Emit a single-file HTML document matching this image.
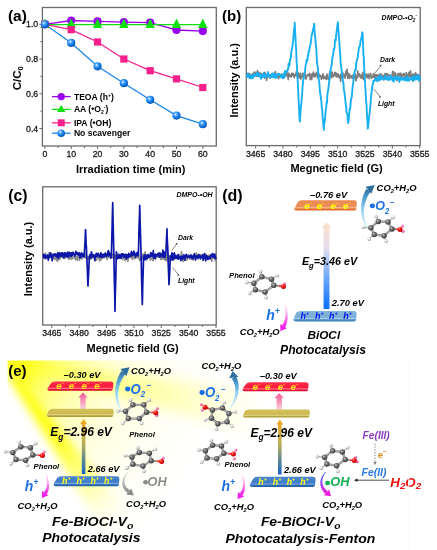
<!DOCTYPE html>
<html><head><meta charset="utf-8"><style>
html,body{margin:0;padding:0;background:#fff;}
#w{position:relative;width:437px;height:550px;overflow:hidden;background:#fff;}
svg{position:absolute;left:0;top:0;}
</style></head><body><div id="w"><svg width="437" height="550" viewBox="0 0 437 550">
<rect x="42.4" y="7.5" width="173.9" height="138.5" fill="none" stroke="#6a6a6a" stroke-width="1.3"/>
<path d="M44.90,146.0v3 M58.06,146.0v2 M71.22,146.0v3 M84.38,146.0v2 M97.54,146.0v3 M110.70,146.0v2 M123.86,146.0v3 M137.02,146.0v2 M150.18,146.0v3 M163.34,146.0v2 M176.50,146.0v3 M189.66,146.0v2 M202.82,146.0v3 M42.4,128.52h-3 M42.4,111.15h-2 M42.4,93.78h-3 M42.4,76.41h-2 M42.4,59.04h-3 M42.4,41.67h-2 M42.4,24.30h-3" stroke="#6a6a6a" stroke-width="1" fill="none"/>
<text x="44.90" y="157.00" style="font-family:'Liberation Sans',Arial,sans-serif;font-size:8.7px;font-weight:normal;font-style:normal;fill:#222" text-anchor="middle" stroke="#1a1a1a" stroke-width="0.3">0</text>
<text x="71.22" y="157.00" style="font-family:'Liberation Sans',Arial,sans-serif;font-size:8.7px;font-weight:normal;font-style:normal;fill:#222" text-anchor="middle" stroke="#1a1a1a" stroke-width="0.3">10</text>
<text x="97.54" y="157.00" style="font-family:'Liberation Sans',Arial,sans-serif;font-size:8.7px;font-weight:normal;font-style:normal;fill:#222" text-anchor="middle" stroke="#1a1a1a" stroke-width="0.3">20</text>
<text x="123.86" y="157.00" style="font-family:'Liberation Sans',Arial,sans-serif;font-size:8.7px;font-weight:normal;font-style:normal;fill:#222" text-anchor="middle" stroke="#1a1a1a" stroke-width="0.3">30</text>
<text x="150.18" y="157.00" style="font-family:'Liberation Sans',Arial,sans-serif;font-size:8.7px;font-weight:normal;font-style:normal;fill:#222" text-anchor="middle" stroke="#1a1a1a" stroke-width="0.3">40</text>
<text x="176.50" y="157.00" style="font-family:'Liberation Sans',Arial,sans-serif;font-size:8.7px;font-weight:normal;font-style:normal;fill:#222" text-anchor="middle" stroke="#1a1a1a" stroke-width="0.3">50</text>
<text x="202.82" y="157.00" style="font-family:'Liberation Sans',Arial,sans-serif;font-size:8.7px;font-weight:normal;font-style:normal;fill:#222" text-anchor="middle" stroke="#1a1a1a" stroke-width="0.3">60</text>
<text x="38.20" y="131.62" style="font-family:'Liberation Sans',Arial,sans-serif;font-size:8.7px;font-weight:normal;font-style:normal;fill:#222" text-anchor="end" stroke="#1a1a1a" stroke-width="0.3">0.4</text>
<text x="38.20" y="96.88" style="font-family:'Liberation Sans',Arial,sans-serif;font-size:8.7px;font-weight:normal;font-style:normal;fill:#222" text-anchor="end" stroke="#1a1a1a" stroke-width="0.3">0.6</text>
<text x="38.20" y="62.14" style="font-family:'Liberation Sans',Arial,sans-serif;font-size:8.7px;font-weight:normal;font-style:normal;fill:#222" text-anchor="end" stroke="#1a1a1a" stroke-width="0.3">0.8</text>
<text x="38.20" y="27.40" style="font-family:'Liberation Sans',Arial,sans-serif;font-size:8.7px;font-weight:normal;font-style:normal;fill:#222" text-anchor="end" stroke="#1a1a1a" stroke-width="0.3">1.0</text>
<text x="76.00" y="172.60" style="font-family:'Liberation Sans',Arial,sans-serif;font-size:11.0px;font-weight:bold;font-style:normal;fill:#000" text-anchor="start" >Irradiation time (min)</text>
<text transform="translate(20.6,90.3) rotate(-90)" style="font-family:'Liberation Sans',Arial,sans-serif;font-size:11.5px;font-weight:bold">C/C<tspan dy="2.5" style="font-size:7.5px">0</tspan></text>
<text x="7.90" y="20.60" style="font-family:'Liberation Sans',Arial,sans-serif;font-size:15.5px;font-weight:bold;font-style:normal;fill:#000" text-anchor="start" >(a)</text>
<defs>
<radialGradient id="sph" cx="0.38" cy="0.35" r="0.65"><stop offset="0" stop-color="#ffffff"/><stop offset="0.25" stop-color="#5ab0ff"/><stop offset="0.7" stop-color="#0a72e0"/><stop offset="1" stop-color="#0658b8"/></radialGradient>
</defs>
<polyline points="44.90,24.30 71.22,20.50 97.54,21.40 123.86,22.10 150.18,22.60 176.50,30.00 202.82,31.10" fill="none" stroke="#9a00f0" stroke-width="1.3"/>
<polyline points="44.90,24.60 71.22,24.60 97.54,24.60 123.86,24.60 150.18,24.60 176.50,24.60 202.82,24.60" fill="none" stroke="#10e010" stroke-width="1.3"/>
<polyline points="44.90,24.30 71.22,29.70 97.54,42.00 123.86,59.00 150.18,70.70 176.50,78.90 202.82,87.50" fill="none" stroke="#f5208c" stroke-width="1.3"/>
<polyline points="44.90,24.30 71.22,42.90 97.54,66.30 123.86,83.20 150.18,99.80 176.50,115.60 202.82,124.20" fill="none" stroke="#1a86e8" stroke-width="1.3"/>
<circle cx="44.90" cy="24.30" r="4.1" fill="#9a00f0"/>
<circle cx="71.22" cy="20.50" r="4.1" fill="#9a00f0"/>
<circle cx="97.54" cy="21.40" r="4.1" fill="#9a00f0"/>
<circle cx="123.86" cy="22.10" r="4.1" fill="#9a00f0"/>
<circle cx="150.18" cy="22.60" r="4.1" fill="#9a00f0"/>
<circle cx="176.50" cy="30.00" r="4.1" fill="#9a00f0"/>
<circle cx="202.82" cy="31.10" r="4.1" fill="#9a00f0"/>
<path d="M44.90,18.58L49.60,27.98L40.20,27.98Z" fill="#10e010"/>
<path d="M71.22,18.58L75.92,27.98L66.52,27.98Z" fill="#10e010"/>
<path d="M97.54,18.58L102.24,27.98L92.84,27.98Z" fill="#10e010"/>
<path d="M123.86,18.58L128.56,27.98L119.16,27.98Z" fill="#10e010"/>
<path d="M150.18,18.58L154.88,27.98L145.48,27.98Z" fill="#10e010"/>
<path d="M176.50,18.58L181.20,27.98L171.80,27.98Z" fill="#10e010"/>
<path d="M202.82,18.58L207.52,27.98L198.12,27.98Z" fill="#10e010"/>
<rect x="41.30" y="20.70" width="7.2" height="7.2" fill="#f5208c"/>
<rect x="67.62" y="26.10" width="7.2" height="7.2" fill="#f5208c"/>
<rect x="93.94" y="38.40" width="7.2" height="7.2" fill="#f5208c"/>
<rect x="120.26" y="55.40" width="7.2" height="7.2" fill="#f5208c"/>
<rect x="146.58" y="67.10" width="7.2" height="7.2" fill="#f5208c"/>
<rect x="172.90" y="75.30" width="7.2" height="7.2" fill="#f5208c"/>
<rect x="199.22" y="83.90" width="7.2" height="7.2" fill="#f5208c"/>
<circle cx="44.90" cy="24.30" r="4.1" fill="url(#sph)"/>
<circle cx="71.22" cy="42.90" r="4.1" fill="url(#sph)"/>
<circle cx="97.54" cy="66.30" r="4.1" fill="url(#sph)"/>
<circle cx="123.86" cy="83.20" r="4.1" fill="url(#sph)"/>
<circle cx="150.18" cy="99.80" r="4.1" fill="url(#sph)"/>
<circle cx="176.50" cy="115.60" r="4.1" fill="url(#sph)"/>
<circle cx="202.82" cy="124.20" r="4.1" fill="url(#sph)"/>
<line x1="52" y1="96.6" x2="70.6" y2="96.6" stroke="#9a00f0" stroke-width="1.3"/>
<line x1="52" y1="109.4" x2="70.6" y2="109.4" stroke="#10e010" stroke-width="1.3"/>
<line x1="52" y1="122.8" x2="70.6" y2="122.8" stroke="#f5208c" stroke-width="1.3"/>
<line x1="52" y1="133.2" x2="70.6" y2="133.2" stroke="#1a86e8" stroke-width="1.3"/>
<circle cx="61.20" cy="96.60" r="3.7" fill="#9a00f0"/>
<path d="M61.20,104.66L65.40,112.06L57.00,112.06Z" fill="#10e010"/>
<rect x="57.70" y="119.30" width="7.0" height="7.0" fill="#f5208c"/>
<circle cx="61.20" cy="133.20" r="3.8" fill="url(#sph)"/>
<text x="73.9" y="99.5" style="font-family:'Liberation Sans',Arial,sans-serif;font-size:8.6px;font-weight:bold">TEOA (h<tspan dy="-3" style="font-size:5px">+</tspan><tspan dy="3">)</tspan></text>
<text x="73.9" y="112.30000000000001" style="font-family:'Liberation Sans',Arial,sans-serif;font-size:8.6px;font-weight:bold">AA (•O<tspan dy="2" style="font-size:5px">2</tspan><tspan dy="-5" style="font-size:5px">-</tspan><tspan dy="3">)</tspan></text>
<text x="73.9" y="125.7" style="font-family:'Liberation Sans',Arial,sans-serif;font-size:8.6px;font-weight:bold">IPA (•OH)</text>
<text x="73.9" y="136.1" style="font-family:'Liberation Sans',Arial,sans-serif;font-size:8.6px;font-weight:bold">No scavenger</text>
<rect x="246.3" y="7.5" width="173.89999999999998" height="138.1" fill="none" stroke="#6a6a6a" stroke-width="1.3"/>
<path d="M255.60,145.6v3 M269.27,145.6v2 M282.95,145.6v3 M296.62,145.6v2 M310.30,145.6v3 M323.98,145.6v2 M337.65,145.6v3 M351.32,145.6v2 M365.00,145.6v3 M378.68,145.6v2 M392.35,145.6v3 M406.02,145.6v2 M419.70,145.6v3" stroke="#6a6a6a" stroke-width="1" fill="none"/>
<text x="255.60" y="157.00" style="font-family:'Liberation Sans',Arial,sans-serif;font-size:8.7px;font-weight:normal;font-style:normal;fill:#222" text-anchor="middle" stroke="#1a1a1a" stroke-width="0.3">3465</text>
<text x="282.95" y="157.00" style="font-family:'Liberation Sans',Arial,sans-serif;font-size:8.7px;font-weight:normal;font-style:normal;fill:#222" text-anchor="middle" stroke="#1a1a1a" stroke-width="0.3">3480</text>
<text x="310.30" y="157.00" style="font-family:'Liberation Sans',Arial,sans-serif;font-size:8.7px;font-weight:normal;font-style:normal;fill:#222" text-anchor="middle" stroke="#1a1a1a" stroke-width="0.3">3495</text>
<text x="337.65" y="157.00" style="font-family:'Liberation Sans',Arial,sans-serif;font-size:8.7px;font-weight:normal;font-style:normal;fill:#222" text-anchor="middle" stroke="#1a1a1a" stroke-width="0.3">3510</text>
<text x="365.00" y="157.00" style="font-family:'Liberation Sans',Arial,sans-serif;font-size:8.7px;font-weight:normal;font-style:normal;fill:#222" text-anchor="middle" stroke="#1a1a1a" stroke-width="0.3">3525</text>
<text x="392.35" y="157.00" style="font-family:'Liberation Sans',Arial,sans-serif;font-size:8.7px;font-weight:normal;font-style:normal;fill:#222" text-anchor="middle" stroke="#1a1a1a" stroke-width="0.3">3540</text>
<text x="419.70" y="157.00" style="font-family:'Liberation Sans',Arial,sans-serif;font-size:8.7px;font-weight:normal;font-style:normal;fill:#222" text-anchor="middle" stroke="#1a1a1a" stroke-width="0.3">3555</text>
<text x="290.40" y="172.40" style="font-family:'Liberation Sans',Arial,sans-serif;font-size:11.0px;font-weight:bold;font-style:normal;fill:#000" text-anchor="start" >Megnetic field (G)</text>
<text transform="translate(237.6,117.6) rotate(-90)" style="font-family:'Liberation Sans',Arial,sans-serif;font-size:11px;font-weight:bold">Intensity (a.u.)</text>
<text x="222.00" y="20.60" style="font-family:'Liberation Sans',Arial,sans-serif;font-size:15px;font-weight:bold;font-style:normal;fill:#000" text-anchor="start" >(b)</text>
<polyline points="247.00,75.39 247.40,75.97 247.80,75.03 248.20,73.45 248.60,74.39 249.00,73.40 249.40,75.58 249.80,78.35 250.20,74.36 250.60,74.81 251.00,76.85 251.40,76.82 251.80,76.49 252.20,74.05 252.60,76.11 253.00,77.17 253.40,73.41 253.80,75.09 254.20,72.00 254.60,73.37 255.00,72.15 255.40,75.62 255.80,73.20 256.20,76.28 256.60,75.90 257.00,75.39 257.40,70.47 257.80,73.78 258.20,74.96 258.60,75.55 259.00,72.31 259.40,74.01 259.80,73.08 260.20,73.58 260.60,77.42 261.00,73.24 261.40,74.98 261.80,77.20 262.20,74.26 262.60,75.57 263.00,75.70 263.40,75.51 263.80,72.67 264.20,75.57 264.60,78.24 265.00,72.38 265.40,77.42 265.80,76.26 266.20,75.18 266.60,80.47 267.00,77.83 267.40,73.48 267.80,75.80 268.20,76.46 268.60,75.09 269.00,76.58 269.40,75.10 269.80,76.60 270.20,78.30 270.60,74.71 271.00,75.63 271.40,74.23 271.80,75.39 272.20,73.32 272.60,74.37 273.00,74.75 273.40,77.24 273.80,77.38 274.20,73.02 274.60,74.03 275.00,77.07 275.40,71.65 275.80,74.62 276.20,75.49 276.60,77.87 277.00,76.52 277.40,74.56 277.80,74.42 278.20,75.08 278.60,78.71 279.00,75.12 279.40,75.82 279.80,77.12 280.20,76.26 280.60,76.11 281.00,74.14 281.40,75.87 281.80,74.56 282.20,77.57 282.60,76.86 283.00,75.50 283.40,77.08 283.80,75.20 284.20,77.82 284.60,75.73 285.00,76.71 285.40,72.86 285.80,76.13 286.20,72.10 286.60,71.26 287.00,74.96 287.40,73.51 287.80,75.62 288.20,79.66 288.60,73.02 289.00,73.78 289.40,75.46 289.80,76.31 290.20,75.01 290.60,74.94 291.00,77.01 291.40,76.56 291.80,73.29 292.20,75.26 292.60,75.30 293.00,73.27 293.40,76.16 293.80,73.95 294.20,77.64 294.60,76.19 295.00,75.87 295.40,74.56 295.80,75.53 296.20,71.87 296.60,73.80 297.00,76.50 297.40,71.85 297.80,77.84 298.20,72.70 298.60,77.69 299.00,74.04 299.40,77.57 299.80,76.60 300.20,73.36 300.60,78.88 301.00,78.86 301.40,76.41 301.80,75.84 302.20,75.20 302.60,73.42 303.00,77.17 303.40,73.95 303.80,74.56 304.20,73.41 304.60,74.25 305.00,72.92 305.40,78.74 305.80,76.60 306.20,78.96 306.60,76.70 307.00,75.08 307.40,75.59 307.80,74.81 308.20,75.67 308.60,74.95 309.00,75.39 309.40,73.35 309.80,74.64 310.20,79.64 310.60,75.03 311.00,74.49 311.40,77.13 311.80,79.38 312.20,73.75 312.60,75.84 313.00,74.47 313.40,72.10 313.80,76.99 314.20,75.62 314.60,75.32 315.00,73.83 315.40,76.48 315.80,74.16 316.20,74.44 316.60,72.36 317.00,72.75 317.40,78.02 317.80,74.34 318.20,76.13 318.60,76.19 319.00,74.80 319.40,74.43 319.80,76.75 320.20,75.18 320.60,75.88 321.00,76.32 321.40,79.34 321.80,78.45 322.20,77.91 322.60,75.74 323.00,73.69 323.40,78.30 323.80,78.72 324.20,76.40 324.60,77.57 325.00,78.22 325.40,78.64 325.80,78.60 326.20,75.74 326.60,79.49 327.00,73.93 327.40,78.06 327.80,77.19 328.20,78.20 328.60,79.52 329.00,78.74 329.40,73.60 329.80,72.41 330.20,76.88 330.60,73.22 331.00,75.69 331.40,77.72 331.80,72.57 332.20,72.03 332.60,77.06 333.00,76.65 333.40,75.74 333.80,75.99 334.20,74.35 334.60,72.64 335.00,75.55 335.40,73.75 335.80,72.40 336.20,76.92 336.60,75.65 337.00,76.96 337.40,73.87 337.80,74.37 338.20,74.18 338.60,74.91 339.00,77.63 339.40,75.47 339.80,77.95 340.20,78.37 340.60,81.43 341.00,73.85 341.40,77.97 341.80,76.11 342.20,76.01 342.60,72.40 343.00,74.07 343.40,76.86 343.80,75.01 344.20,75.19 344.60,74.69 345.00,78.11 345.40,76.02 345.80,71.62 346.20,74.61 346.60,72.00 347.00,69.15 347.40,74.71 347.80,78.51 348.20,75.65 348.60,73.33 349.00,73.83 349.40,78.38 349.80,75.79 350.20,75.34 350.60,75.22 351.00,76.08 351.40,77.89 351.80,77.19 352.20,77.06 352.60,75.26 353.00,78.40 353.40,75.33 353.80,78.95 354.20,74.36 354.60,76.62 355.00,76.28 355.40,74.15 355.80,80.73 356.20,80.05 356.60,76.25 357.00,78.09 357.40,77.57 357.80,71.09 358.20,76.52 358.60,75.93 359.00,75.98 359.40,73.74 359.80,75.29 360.20,75.34 360.60,77.90 361.00,75.89 361.40,75.21 361.80,78.13 362.20,74.16 362.60,74.73 363.00,72.21 363.40,79.58 363.80,78.46 364.20,78.48 364.60,77.49 365.00,76.04 365.40,75.87 365.80,74.49 366.20,74.12 366.60,75.13 367.00,77.90 367.40,76.34 367.80,75.21 368.20,74.07 368.60,74.41 369.00,78.68 369.40,76.70 369.80,75.36 370.20,74.55 370.60,73.53 371.00,76.09 371.40,78.41 371.80,76.18 372.20,76.75 372.60,77.10 373.00,77.32 373.40,73.44 373.80,75.78 374.20,74.39 374.60,77.93 375.00,74.26 375.40,76.72 375.80,78.54 376.20,75.47 376.60,74.85 377.00,76.48 377.40,76.24 377.80,74.68 378.20,77.41 378.60,79.94 379.00,75.62 379.40,75.85 379.80,74.07 380.20,77.00 380.60,73.97 381.00,74.32 381.40,78.75 381.80,74.67 382.20,78.16 382.60,78.52 383.00,76.03 383.40,76.75 383.80,79.81 384.20,75.49 384.60,74.79 385.00,73.60 385.40,76.44 385.80,79.01 386.20,77.95 386.60,73.61 387.00,73.67 387.40,74.11 387.80,75.42 388.20,74.43 388.60,75.23 389.00,75.68 389.40,75.34 389.80,75.90 390.20,76.39 390.60,75.78 391.00,76.65 391.40,79.03 391.80,76.21 392.20,75.03 392.60,71.44 393.00,75.93 393.40,71.45 393.80,72.89 394.20,77.34 394.60,77.34 395.00,76.10 395.40,73.11 395.80,75.91 396.20,75.30 396.60,78.00 397.00,80.76 397.40,76.63 397.80,74.29 398.20,73.46 398.60,75.28 399.00,75.32 399.40,73.74 399.80,76.03 400.20,73.15 400.60,77.57 401.00,77.76 401.40,77.26 401.80,74.14 402.20,76.25 402.60,75.48 403.00,74.87 403.40,74.98 403.80,73.45 404.20,73.74 404.60,78.13 405.00,75.92 405.40,76.71 405.80,78.48 406.20,72.51 406.60,73.69 407.00,75.84 407.40,76.16 407.80,74.59 408.20,77.11 408.60,75.25 409.00,72.18 409.40,72.65 409.80,76.39 410.20,75.88 410.60,70.86 411.00,77.73 411.40,76.76 411.80,78.47 412.20,74.96 412.60,74.98 413.00,73.88 413.40,81.18 413.80,75.29 414.20,78.50 414.60,74.39 415.00,76.27 415.40,72.72 415.80,75.32 416.20,78.55 416.60,74.12 417.00,78.40 417.40,77.46 417.80,74.60 418.20,75.68 418.60,75.53 419.00,76.56 419.40,75.63 419.80,74.46" fill="none" stroke="#7d7d7d" stroke-width="1.6" stroke-linejoin="round"/>
<polyline points="247.00,77.78 247.40,75.37 247.80,73.37 248.20,75.54 248.60,76.14 249.00,76.11 249.40,77.98 249.80,76.69 250.20,77.47 250.60,74.86 251.00,77.02 251.40,78.59 251.80,76.59 252.20,75.91 252.60,75.98 253.00,78.12 253.40,74.38 253.80,75.36 254.20,76.12 254.60,76.27 255.00,74.36 255.40,75.15 255.80,74.37 256.20,74.83 256.60,74.27 257.00,72.71 257.40,74.50 257.80,76.00 258.20,73.79 258.60,74.85 259.00,76.22 259.40,74.17 259.80,75.86 260.20,74.00 260.60,77.03 261.00,78.85 261.40,78.36 261.80,74.89 262.20,76.31 262.60,75.53 263.00,75.04 263.40,76.96 263.80,73.20 264.20,76.80 264.60,75.10 265.00,77.19 265.40,75.76 265.80,74.44 266.20,75.64 266.60,76.25 267.00,75.27 267.40,75.49 267.80,73.94 268.20,72.06 268.60,76.59 269.00,75.91 269.40,75.62 269.80,75.65 270.20,77.19 270.60,75.16 271.00,74.72 271.40,75.79 271.80,77.15 272.20,73.80 272.60,77.16 273.00,74.03 273.40,73.65 273.80,77.04 274.20,75.58 274.60,73.66 275.00,75.30 275.40,77.72 275.80,77.89 276.20,75.51 276.60,76.22 277.00,76.76 277.40,74.30 277.80,75.20 278.20,74.44 278.60,73.58 279.00,73.79 279.40,74.58 279.80,75.15 280.20,74.76 280.60,74.93 281.00,77.41 281.40,76.05 281.80,76.95 282.20,77.24 282.60,76.00 283.00,78.31 283.40,73.59 283.80,76.01 284.00,75.11 284.20,77.23 284.60,76.64 285.00,70.83 285.40,71.65 285.80,73.14 286.20,72.70 286.50,71.73 286.60,71.32 287.00,71.17 287.40,70.81 287.80,69.00 288.20,69.54 288.60,63.71 288.90,66.21 289.00,64.48 289.40,65.36 289.80,61.97 290.20,58.96 290.60,58.90 291.00,56.63 291.00,55.02 291.40,50.95 291.80,50.09 292.20,48.06 292.60,45.56 293.00,40.93 293.20,40.19 293.40,37.42 293.80,32.87 294.20,29.22 294.60,25.42 294.70,22.61 295.00,28.56 295.40,36.62 295.80,44.43 296.20,50.33 296.60,61.30 297.00,67.14 297.40,76.25 297.80,82.07 298.20,91.62 298.60,99.92 299.00,105.99 299.40,116.89 299.70,120.45 299.80,121.58 300.20,116.38 300.60,109.84 301.00,106.54 301.40,103.42 301.80,98.12 301.80,98.26 302.20,92.62 302.60,85.88 303.00,82.80 303.30,79.32 303.40,79.66 303.80,76.18 304.20,74.26 304.60,72.61 305.00,71.29 305.40,66.87 305.80,64.46 306.20,63.42 306.60,59.90 307.00,59.45 307.40,61.02 307.80,55.29 308.20,55.91 308.60,51.22 309.00,51.62 309.40,48.61 309.80,46.79 310.20,45.31 310.60,44.35 311.00,39.91 311.40,37.68 311.80,34.22 312.20,34.39 312.60,31.27 313.00,30.67 313.40,27.68 313.80,28.25 314.10,23.61 314.20,25.36 314.60,31.98 315.00,35.12 315.40,39.08 315.80,44.87 316.20,47.57 316.60,54.45 317.00,62.45 317.40,65.45 317.80,67.02 318.20,71.86 318.50,76.03 318.60,78.97 319.00,79.95 319.40,83.90 319.80,89.82 320.20,93.50 320.60,95.81 321.00,98.70 321.40,101.94 321.80,107.46 322.20,109.51 322.60,117.74 323.00,119.66 323.40,125.06 323.80,128.64 323.80,130.01 324.20,122.87 324.60,122.25 325.00,119.71 325.40,113.33 325.80,109.66 326.20,107.39 326.60,102.09 327.00,103.04 327.40,93.54 327.80,92.21 328.20,90.01 328.60,86.53 329.00,83.59 329.40,80.10 329.60,77.96 329.80,78.57 330.20,70.94 330.60,71.42 331.00,67.61 331.40,66.20 331.80,63.70 332.20,58.80 332.60,56.64 333.00,55.66 333.40,52.49 333.80,48.50 334.20,49.47 334.60,47.41 335.00,39.67 335.40,39.64 335.80,40.36 336.20,35.08 336.60,31.65 337.00,28.52 337.40,25.34 337.80,23.25 337.90,22.29 338.20,27.98 338.60,32.28 339.00,37.93 339.40,42.75 339.80,50.01 340.20,54.44 340.50,59.94 340.60,62.40 341.00,65.09 341.40,68.42 341.80,71.56 342.20,74.78 342.60,77.79 342.70,78.82 343.00,82.03 343.40,82.64 343.80,89.43 344.20,91.02 344.60,93.52 345.00,97.32 345.40,100.50 345.80,105.09 346.20,106.98 346.60,112.75 347.00,113.25 347.40,114.27 347.80,119.34 348.20,122.93 348.20,123.17 348.60,121.26 349.00,117.27 349.40,111.24 349.80,108.48 350.20,108.70 350.60,103.64 351.00,99.93 351.40,97.96 351.80,96.78 352.20,91.91 352.60,87.01 353.00,84.20 353.40,81.14 353.70,77.81 353.80,75.95 354.20,75.54 354.60,72.03 355.00,71.01 355.40,69.40 355.80,70.19 356.20,63.33 356.60,62.16 357.00,59.88 357.40,58.46 357.80,56.93 358.20,53.06 358.60,50.49 359.00,47.42 359.40,46.56 359.80,46.53 360.20,43.89 360.60,40.52 361.00,39.51 361.40,37.86 361.80,36.35 362.20,32.69 362.40,32.35 362.60,33.79 363.00,42.48 363.40,54.35 363.80,57.13 364.20,67.71 364.60,76.08 364.60,75.28 365.00,81.24 365.40,88.80 365.80,95.60 366.20,102.07 366.60,106.01 367.00,115.07 367.40,120.74 367.80,128.38 367.80,128.69 368.20,125.79 368.60,122.40 369.00,116.89 369.40,115.09 369.80,111.58 370.20,107.42 370.60,103.59 371.00,97.54 371.40,93.39 371.80,90.57 372.00,87.52 372.20,87.34 372.60,84.98 373.00,83.89 373.40,80.69 373.80,80.99 374.20,80.61 374.50,80.17 374.60,81.06 375.00,79.50 375.40,79.21 375.80,78.05 376.20,79.73 376.60,78.83 377.00,80.04 377.40,81.35 377.80,79.02 378.20,77.07 378.60,77.90 379.00,77.07 379.40,76.92 379.80,80.21 380.00,78.36 380.20,75.59 380.60,78.65 381.00,79.30 381.40,77.27 381.80,76.77 382.20,77.51 382.60,78.23 383.00,78.68 383.40,79.45 383.80,79.30 384.20,79.38 384.60,79.40 385.00,78.63 385.40,75.75 385.80,77.86 386.20,78.51 386.60,77.62 387.00,79.44 387.40,77.73 387.80,76.54 388.20,79.96 388.60,78.95 389.00,78.33 389.40,79.51 389.80,79.78 390.20,79.13 390.60,75.18 391.00,77.77 391.40,78.38 391.80,77.78 392.20,79.26 392.60,80.82 393.00,78.34 393.40,77.42 393.80,81.53 394.20,77.83 394.60,76.86 395.00,78.51 395.40,78.84 395.80,77.30 396.20,79.57 396.60,77.50 397.00,76.76 397.40,78.59 397.80,79.21 398.20,77.20 398.60,78.16 399.00,77.99 399.40,82.00 399.80,77.08 400.20,79.85 400.60,77.93 401.00,78.15 401.40,79.35 401.80,79.56 402.20,79.86 402.60,79.15 403.00,77.63 403.40,77.64 403.80,78.95 404.20,79.03 404.60,80.45 405.00,79.00 405.40,79.92 405.80,80.40 406.20,78.73 406.60,76.74 407.00,77.11 407.40,76.66 407.80,80.88 408.20,77.70 408.60,80.22 409.00,78.94 409.40,80.55 409.80,79.27 410.20,78.20 410.60,78.10 411.00,78.61 411.40,79.07 411.80,78.20 412.20,79.07 412.60,80.85 413.00,76.26 413.40,79.30 413.80,77.48 414.20,78.62 414.60,79.62 415.00,78.56 415.40,79.51 415.80,75.94 416.20,79.67 416.60,77.44 417.00,79.02 417.40,78.55 417.80,74.95 418.20,77.33 418.60,78.88 419.00,80.83 419.40,79.11 419.80,78.90 420.00,76.45" fill="none" stroke="#18b0f2" stroke-width="1.9" stroke-linejoin="round"/>
<text x="381.6" y="20.0" style="font-family:'Liberation Sans',Arial,sans-serif;font-size:7px;font-weight:bold;font-style:italic">DMPO-•O<tspan dy="1.6" style="font-size:4.6px">2</tspan><tspan dy="-4.4" style="font-size:4.6px">-</tspan></text>
<text x="380.00" y="61.70" style="font-family:'Liberation Sans',Arial,sans-serif;font-size:6.8px;font-weight:bold;font-style:italic;fill:#000" text-anchor="start" >Dark</text>
<text x="377.90" y="105.80" style="font-family:'Liberation Sans',Arial,sans-serif;font-size:6.8px;font-weight:bold;font-style:italic;fill:#000" text-anchor="start" >Light</text>
<path d="M374.9,73 L381,65.5" stroke="#333" stroke-width="0.6"/><path d="M381.6,64.6 l-2.2,0.9 l1.4,1.1z" fill="#333"/>
<path d="M373.6,88.8 L380.4,97" stroke="#333" stroke-width="0.6"/><path d="M381,97.8 l-2.3,-0.6 l1.3,-1.2z" fill="#333"/>
<rect x="42.7" y="186.8" width="173.5" height="138.2" fill="none" stroke="#6a6a6a" stroke-width="1.3"/>
<path d="M51.80,325.0v3 M65.48,325.0v2 M79.17,325.0v3 M92.85,325.0v2 M106.54,325.0v3 M120.22,325.0v2 M133.91,325.0v3 M147.59,325.0v2 M161.28,325.0v3 M174.97,325.0v2 M188.65,325.0v3 M202.33,325.0v2 M216.02,325.0v3" stroke="#6a6a6a" stroke-width="1" fill="none"/>
<text x="51.80" y="336.40" style="font-family:'Liberation Sans',Arial,sans-serif;font-size:8.7px;font-weight:normal;font-style:normal;fill:#222" text-anchor="middle" stroke="#1a1a1a" stroke-width="0.3">3465</text>
<text x="79.17" y="336.40" style="font-family:'Liberation Sans',Arial,sans-serif;font-size:8.7px;font-weight:normal;font-style:normal;fill:#222" text-anchor="middle" stroke="#1a1a1a" stroke-width="0.3">3480</text>
<text x="106.54" y="336.40" style="font-family:'Liberation Sans',Arial,sans-serif;font-size:8.7px;font-weight:normal;font-style:normal;fill:#222" text-anchor="middle" stroke="#1a1a1a" stroke-width="0.3">3495</text>
<text x="133.91" y="336.40" style="font-family:'Liberation Sans',Arial,sans-serif;font-size:8.7px;font-weight:normal;font-style:normal;fill:#222" text-anchor="middle" stroke="#1a1a1a" stroke-width="0.3">3510</text>
<text x="161.28" y="336.40" style="font-family:'Liberation Sans',Arial,sans-serif;font-size:8.7px;font-weight:normal;font-style:normal;fill:#222" text-anchor="middle" stroke="#1a1a1a" stroke-width="0.3">3525</text>
<text x="188.65" y="336.40" style="font-family:'Liberation Sans',Arial,sans-serif;font-size:8.7px;font-weight:normal;font-style:normal;fill:#222" text-anchor="middle" stroke="#1a1a1a" stroke-width="0.3">3540</text>
<text x="216.02" y="336.40" style="font-family:'Liberation Sans',Arial,sans-serif;font-size:8.7px;font-weight:normal;font-style:normal;fill:#222" text-anchor="middle" stroke="#1a1a1a" stroke-width="0.3">3555</text>
<text x="86.50" y="352.20" style="font-family:'Liberation Sans',Arial,sans-serif;font-size:11.0px;font-weight:bold;font-style:normal;fill:#000" text-anchor="start" >Megnetic field (G)</text>
<text transform="translate(32.2,296.3) rotate(-90)" style="font-family:'Liberation Sans',Arial,sans-serif;font-size:11px;font-weight:bold">Intensity (a.u.)</text>
<text x="8.20" y="200.70" style="font-family:'Liberation Sans',Arial,sans-serif;font-size:15.8px;font-weight:bold;font-style:normal;fill:#000" text-anchor="start" >(c)</text>
<polyline points="43.50,258.63 43.90,255.98 44.30,255.29 44.70,258.77 45.10,255.25 45.50,252.97 45.90,258.99 46.30,256.14 46.70,257.08 47.10,255.24 47.50,254.91 47.90,255.63 48.30,256.57 48.70,257.26 49.10,252.46 49.50,257.56 49.90,254.35 50.30,254.17 50.70,257.45 51.10,256.24 51.50,253.25 51.90,259.36 52.30,254.92 52.70,257.07 53.10,256.79 53.50,258.78 53.90,255.83 54.30,259.07 54.70,255.59 55.10,259.05 55.50,255.79 55.90,256.92 56.30,260.53 56.70,257.54 57.10,257.40 57.50,261.41 57.90,258.26 58.30,256.07 58.70,259.40 59.10,255.41 59.50,259.51 59.90,259.56 60.30,256.05 60.70,255.81 61.10,256.87 61.50,256.60 61.90,254.21 62.30,256.87 62.70,252.65 63.10,255.95 63.50,256.19 63.90,256.90 64.30,258.17 64.70,255.60 65.10,258.61 65.50,256.57 65.90,255.37 66.30,253.84 66.70,254.22 67.10,256.78 67.50,254.42 67.90,256.45 68.30,258.68 68.70,258.61 69.10,259.56 69.50,256.48 69.90,254.94 70.30,258.64 70.70,257.05 71.10,258.68 71.50,256.88 71.90,259.26 72.30,258.31 72.70,258.13 73.10,257.75 73.50,257.43 73.90,256.90 74.30,256.49 74.70,258.41 75.10,255.82 75.50,259.71 75.90,256.64 76.30,258.92 76.70,256.97 77.10,256.70 77.50,260.61 77.90,256.89 78.30,254.81 78.70,255.43 79.10,256.19 79.50,260.30 79.90,256.99 80.30,258.09 80.70,254.66 81.10,257.15 81.50,257.02 81.90,259.24 82.30,254.29 82.70,256.64 83.10,256.34 83.50,254.13 83.90,256.65 84.30,256.15 84.70,252.82 85.10,257.91 85.50,257.43 85.90,255.41 86.30,254.13 86.70,259.24 87.10,257.29 87.50,258.71 87.90,259.56 88.30,256.25 88.70,258.49 89.10,256.78 89.50,256.94 89.90,256.81 90.30,256.78 90.70,259.18 91.10,257.24 91.50,256.50 91.90,256.54 92.30,258.03 92.70,256.09 93.10,256.35 93.50,257.73 93.90,256.96 94.30,257.57 94.70,256.41 95.10,260.69 95.50,259.27 95.90,257.27 96.30,256.36 96.70,260.23 97.10,256.65 97.50,255.91 97.90,256.83 98.30,256.43 98.70,258.53 99.10,256.26 99.50,260.94 99.90,256.07 100.30,258.85 100.70,255.93 101.10,260.06 101.50,255.81 101.90,255.65 102.30,257.44 102.70,258.30 103.10,254.35 103.50,256.53 103.90,254.91 104.30,258.02 104.70,257.15 105.10,256.47 105.50,255.44 105.90,256.28 106.30,255.77 106.70,257.92 107.10,259.66 107.50,253.60 107.90,257.11 108.30,256.24 108.70,257.55 109.10,254.90 109.50,256.53 109.90,255.07 110.30,258.30 110.70,257.14 111.10,256.69 111.50,257.44 111.90,256.59 112.30,253.99 112.70,257.87 113.10,257.30 113.50,256.20 113.90,258.54 114.30,258.56 114.70,254.61 115.10,255.19 115.50,259.11 115.90,259.00 116.30,254.80 116.70,254.06 117.10,254.63 117.50,254.95 117.90,253.31 118.30,256.50 118.70,254.16 119.10,254.53 119.50,258.45 119.90,255.41 120.30,256.69 120.70,257.87 121.10,258.20 121.50,255.83 121.90,256.71 122.30,255.23 122.70,259.68 123.10,257.52 123.50,254.58 123.90,257.35 124.30,258.53 124.70,258.10 125.10,260.67 125.50,259.46 125.90,255.93 126.30,256.05 126.70,254.27 127.10,256.89 127.50,256.47 127.90,261.57 128.30,256.89 128.70,252.98 129.10,255.22 129.50,256.40 129.90,254.05 130.30,254.97 130.70,256.26 131.10,257.81 131.50,256.97 131.90,256.21 132.30,259.50 132.70,257.31 133.10,257.19 133.50,255.42 133.90,256.49 134.30,258.86 134.70,254.62 135.10,257.08 135.50,258.10 135.90,255.70 136.30,256.61 136.70,253.69 137.10,258.01 137.50,257.59 137.90,255.84 138.30,252.86 138.70,254.47 139.10,258.57 139.50,260.24 139.90,258.10 140.30,259.91 140.70,256.64 141.10,257.31 141.50,257.72 141.90,258.32 142.30,254.24 142.70,258.82 143.10,259.11 143.50,254.40 143.90,253.91 144.30,256.47 144.70,254.59 145.10,251.75 145.50,257.64 145.90,256.71 146.30,255.18 146.70,259.99 147.10,256.54 147.50,254.82 147.90,256.25 148.30,254.31 148.70,255.21 149.10,257.45 149.50,255.88 149.90,256.21 150.30,260.05 150.70,258.64 151.10,258.65 151.50,258.18 151.90,258.11 152.30,259.82 152.70,257.48 153.10,260.82 153.50,255.75 153.90,257.16 154.30,255.15 154.70,257.17 155.10,258.50 155.50,259.53 155.90,255.93 156.30,256.96 156.70,256.03 157.10,255.03 157.50,254.03 157.90,257.19 158.30,253.78 158.70,256.73 159.10,256.94 159.50,255.68 159.90,255.65 160.30,254.30 160.70,259.56 161.10,254.13 161.50,259.16 161.90,257.43 162.30,254.81 162.70,253.71 163.10,258.52 163.50,259.33 163.90,254.86 164.30,255.97 164.70,259.37 165.10,258.09 165.50,260.68 165.90,256.71 166.30,258.57 166.70,255.34 167.10,261.01 167.50,255.71 167.90,252.71 168.30,256.66 168.70,256.44 169.10,260.14 169.50,256.00 169.90,256.36 170.30,257.54 170.70,258.78 171.10,255.78 171.50,257.91 171.90,257.14 172.30,255.91 172.70,256.98 173.10,257.13 173.50,255.31 173.90,259.18 174.30,254.05 174.70,258.99 175.10,258.59 175.50,256.58 175.90,255.31 176.30,256.26 176.70,257.55 177.10,257.96 177.50,257.02 177.90,258.11 178.30,255.81 178.70,257.36 179.10,254.16 179.50,258.45 179.90,257.32 180.30,256.40 180.70,259.07 181.10,257.90 181.50,251.62 181.90,256.47 182.30,254.18 182.70,259.11 183.10,261.59 183.50,256.69 183.90,257.84 184.30,257.37 184.70,258.31 185.10,258.58 185.50,260.32 185.90,255.93 186.30,260.28 186.70,255.98 187.10,257.87 187.50,259.33 187.90,257.36 188.30,254.55 188.70,255.41 189.10,255.73 189.50,256.77 189.90,259.36 190.30,255.61 190.70,258.76 191.10,258.68 191.50,258.34 191.90,258.19 192.30,259.80 192.70,257.67 193.10,258.21 193.50,257.80 193.90,259.91 194.30,253.13 194.70,258.69 195.10,255.86 195.50,255.50 195.90,254.69 196.30,252.92 196.70,255.55 197.10,255.22 197.50,257.82 197.90,254.26 198.30,259.03 198.70,257.30 199.10,256.49 199.50,255.39 199.90,254.86 200.30,254.73 200.70,256.09 201.10,257.13 201.50,256.49 201.90,254.49 202.30,256.84 202.70,255.67 203.10,257.06 203.50,260.07 203.90,257.94 204.30,255.92 204.70,253.58 205.10,253.79 205.50,253.48 205.90,257.88 206.30,254.93 206.70,256.64 207.10,255.46 207.50,256.80 207.90,259.48 208.30,255.38 208.70,255.98 209.10,255.20 209.50,258.23 209.90,255.21 210.30,254.92 210.70,254.53 211.10,254.99 211.50,258.14 211.90,261.50 212.30,255.19 212.70,258.63 213.10,257.71 213.50,255.22 213.90,257.29 214.30,257.75 214.70,256.62 215.10,261.05 215.50,253.99 215.90,257.98" fill="none" stroke="#8a8a8a" stroke-width="1.5" stroke-linejoin="round"/>
<polyline points="43.50,253.57 43.80,257.74 44.10,257.38 44.40,255.95 44.70,255.93 45.00,255.94 45.30,254.96 45.60,258.11 45.90,256.85 46.20,256.42 46.50,256.33 46.80,257.60 47.10,256.55 47.40,257.40 47.70,254.77 48.00,257.77 48.30,260.12 48.60,255.69 48.90,256.55 49.20,257.61 49.50,257.55 49.80,256.34 50.10,252.90 50.40,256.16 50.70,253.41 51.00,254.02 51.30,256.61 51.60,255.57 51.90,256.98 52.20,260.78 52.50,257.55 52.80,257.63 53.10,254.44 53.40,254.76 53.70,254.43 54.00,254.92 54.30,254.10 54.60,254.33 54.90,255.55 55.20,254.34 55.50,253.86 55.80,253.91 56.10,256.50 56.40,256.05 56.70,257.00 57.00,256.90 57.30,254.35 57.60,255.63 57.90,252.49 58.20,258.52 58.50,257.26 58.80,255.15 59.10,253.82 59.40,256.20 59.70,252.87 60.00,254.25 60.30,256.57 60.60,255.70 60.90,254.39 61.20,256.51 61.50,252.91 61.80,254.89 62.10,253.61 62.40,252.98 62.70,255.30 63.00,253.65 63.30,258.01 63.60,253.96 63.90,257.73 64.20,253.11 64.50,255.64 64.80,252.67 65.10,253.07 65.40,255.10 65.70,255.91 66.00,253.14 66.30,256.89 66.60,253.73 66.90,254.63 67.20,255.63 67.50,255.83 67.80,252.19 68.10,257.31 68.40,255.78 68.70,254.32 69.00,253.41 69.30,252.49 69.60,253.04 69.90,255.87 70.20,254.27 70.50,252.91 70.80,253.32 71.10,256.49 71.40,253.42 71.70,252.79 72.00,255.97 72.30,254.93 72.60,254.12 72.90,253.48 73.20,252.22 73.50,253.00 73.80,254.21 74.10,254.48 74.40,255.59 74.70,255.99 75.00,255.22 75.30,255.20 75.60,253.29 75.90,251.29 76.20,253.84 76.50,252.75 76.80,254.00 77.10,254.36 77.40,252.68 77.70,253.27 78.00,254.81 78.30,254.74 78.60,253.11 78.90,255.05 79.20,254.07 79.50,252.97 79.80,254.76 80.10,257.88 80.40,254.00 80.70,256.47 81.00,256.63 81.30,256.58 81.60,252.76 81.90,256.92 82.20,253.79 82.50,253.84 82.80,254.39 83.10,255.48 83.40,254.82 83.70,254.38 84.00,257.05 84.30,253.76 84.30,253.76 84.60,249.94 84.90,244.08 85.20,238.84 85.50,229.80 85.60,229.77 85.80,234.79 86.10,243.86 86.40,246.63 86.70,256.12 87.00,262.52 87.30,267.57 87.60,275.96 87.90,285.70 88.00,285.89 88.20,280.60 88.50,276.23 88.80,269.41 89.10,262.60 89.30,256.47 89.40,256.47 89.70,257.59 90.00,254.57 90.30,254.47 90.60,257.11 90.90,258.22 91.20,253.85 91.50,251.98 91.80,253.48 92.10,254.41 92.40,255.46 92.70,256.81 93.00,255.82 93.30,254.99 93.60,256.65 93.90,254.93 94.20,256.19 94.50,255.75 94.80,260.56 95.10,257.86 95.40,255.19 95.70,254.83 96.00,255.89 96.30,253.34 96.60,254.37 96.90,254.26 97.20,256.70 97.50,255.32 97.80,253.85 98.10,253.33 98.40,253.91 98.70,255.30 99.00,254.99 99.30,256.62 99.60,254.87 99.90,257.07 100.20,255.29 100.50,255.35 100.80,252.81 101.10,253.67 101.40,255.78 101.70,257.28 102.00,255.78 102.30,256.61 102.60,254.45 102.90,254.46 103.20,254.40 103.50,256.82 103.80,256.21 104.10,254.55 104.40,254.16 104.70,255.95 105.00,255.59 105.30,253.15 105.60,256.60 105.90,254.85 106.20,254.64 106.50,256.27 106.80,255.57 107.10,254.08 107.40,255.05 107.70,252.44 108.00,253.00 108.30,250.61 108.60,256.17 108.90,251.65 109.20,255.38 109.50,253.38 109.80,253.29 110.10,254.71 110.40,255.18 110.70,255.99 111.00,258.03 111.30,255.74 111.40,254.46 111.60,246.18 111.90,236.33 112.20,223.23 112.50,209.84 112.70,202.66 112.80,207.02 113.10,221.47 113.40,235.96 113.70,248.41 114.00,262.75 114.30,279.39 114.60,289.83 114.90,305.47 115.00,311.33 115.20,298.53 115.50,288.38 115.80,277.93 116.10,261.47 116.30,257.51 116.40,251.96 116.70,258.31 117.00,259.02 117.30,258.08 117.60,256.84 117.90,257.47 118.20,255.68 118.50,258.06 118.80,254.81 119.10,256.18 119.40,257.98 119.70,254.79 120.00,255.94 120.30,257.02 120.60,254.87 120.90,258.50 121.20,256.69 121.50,253.91 121.80,255.76 122.10,253.72 122.40,254.01 122.70,255.29 123.00,254.42 123.30,256.84 123.60,254.17 123.90,257.34 124.20,255.34 124.50,256.44 124.80,254.93 125.10,255.04 125.40,254.36 125.70,256.71 126.00,257.29 126.30,259.08 126.60,257.44 126.90,255.59 127.20,254.82 127.50,256.01 127.80,255.87 128.10,257.70 128.40,256.56 128.70,253.71 129.00,254.06 129.30,256.95 129.60,255.24 129.90,254.55 130.20,256.60 130.50,254.59 130.80,254.48 131.10,253.83 131.40,251.41 131.70,255.96 132.00,253.13 132.30,253.79 132.60,252.97 132.90,255.28 133.20,254.05 133.50,253.92 133.80,251.19 134.10,253.62 134.40,252.15 134.70,254.83 135.00,254.87 135.30,254.09 135.60,257.10 135.90,254.98 136.20,254.64 136.50,253.64 136.80,252.99 137.10,255.19 137.40,255.55 137.70,252.20 138.00,255.90 138.30,255.27 138.40,254.34 138.60,247.03 138.90,233.52 139.20,222.12 139.50,215.58 139.70,205.43 139.80,207.60 140.10,221.78 140.40,231.85 140.70,241.16 141.00,251.87 141.30,264.30 141.60,278.59 141.90,289.43 142.20,300.48 142.30,304.54 142.50,298.02 142.80,282.40 143.10,274.05 143.40,263.04 143.60,256.62 143.70,256.07 144.00,256.43 144.30,256.96 144.60,255.15 144.90,256.16 145.20,259.97 145.50,255.50 145.80,255.25 146.10,257.87 146.40,258.22 146.70,257.72 147.00,255.37 147.30,258.69 147.60,255.42 147.90,254.87 148.20,255.41 148.50,256.36 148.80,257.39 149.10,257.05 149.40,255.52 149.70,256.74 150.00,255.59 150.30,256.64 150.60,252.88 150.90,252.66 151.20,256.52 151.50,253.10 151.80,254.72 152.10,254.79 152.40,254.72 152.70,254.13 153.00,256.75 153.30,250.70 153.60,255.82 153.90,258.30 154.20,254.49 154.50,255.01 154.80,255.97 155.10,258.42 155.40,254.17 155.70,256.11 156.00,255.49 156.30,256.28 156.60,256.09 156.90,256.30 157.20,254.36 157.50,254.84 157.80,253.74 158.10,254.15 158.40,254.64 158.70,254.76 159.00,253.08 159.30,257.19 159.60,254.72 159.90,252.85 160.20,256.80 160.50,254.08 160.80,256.20 161.10,255.40 161.40,255.30 161.70,255.11 162.00,253.62 162.30,254.31 162.60,257.07 162.90,250.15 163.20,254.07 163.50,254.55 163.80,252.67 164.10,251.98 164.40,257.09 164.70,253.92 165.00,257.47 165.30,255.45 165.60,254.40 165.70,254.19 165.90,251.71 166.20,246.75 166.50,239.66 166.80,233.27 167.00,228.83 167.10,234.46 167.40,241.74 167.70,246.65 168.00,256.05 168.30,265.75 168.60,273.28 168.90,282.10 169.00,284.62 169.20,281.38 169.50,275.77 169.80,269.95 170.10,261.40 170.30,257.55 170.40,255.79 170.70,260.78 171.00,257.61 171.30,257.51 171.60,256.38 171.90,252.84 172.20,257.57 172.50,257.74 172.80,260.21 173.10,254.22 173.40,259.30 173.70,256.31 174.00,257.37 174.30,252.74 174.60,257.11 174.90,256.94 175.20,258.22 175.50,256.99 175.80,255.27 176.10,258.43 176.40,258.04 176.70,257.58 177.00,257.84 177.30,258.44 177.60,256.69 177.90,254.91 178.20,254.70 178.50,259.20 178.80,258.91 179.10,257.88 179.40,257.47 179.70,257.70 180.00,257.47 180.30,256.86 180.60,256.27 180.90,260.72 181.20,258.17 181.50,257.20 181.80,256.36 182.10,257.31 182.40,259.12 182.70,258.83 183.00,256.58 183.30,257.14 183.60,256.30 183.90,254.98 184.20,258.25 184.50,257.12 184.80,260.28 185.10,255.39 185.40,256.19 185.70,257.50 186.00,256.41 186.30,254.24 186.60,255.15 186.90,256.41 187.20,256.61 187.50,256.12 187.80,257.59 188.10,257.50 188.40,256.60 188.70,256.08 189.00,255.96 189.30,257.09 189.60,257.38 189.90,256.88 190.20,256.97 190.50,256.16 190.80,254.99 191.10,255.13 191.40,257.53 191.70,256.65 192.00,258.61 192.30,256.22 192.60,257.46 192.90,258.52 193.20,258.18 193.50,255.00 193.80,255.79 194.10,255.96 194.40,254.08 194.70,256.41 195.00,257.16 195.30,255.93 195.60,259.81 195.90,256.83 196.20,256.61 196.50,256.40 196.80,255.89 197.10,257.07 197.40,255.95 197.70,258.32 198.00,257.06 198.30,257.13 198.60,256.00 198.90,254.60 199.20,256.89 199.50,255.00 199.80,257.50 200.10,255.92 200.40,258.81 200.70,257.03 201.00,257.08 201.30,256.65 201.60,256.92 201.90,257.49 202.20,257.52 202.50,254.96 202.80,256.95 203.10,260.17 203.40,255.55 203.70,255.55 204.00,254.87 204.30,253.99 204.60,257.89 204.90,256.60 205.20,257.59 205.50,259.63 205.80,260.74 206.10,255.26 206.40,258.47 206.70,257.64 207.00,257.38 207.30,257.56 207.60,256.36 207.90,259.44 208.20,257.60 208.50,257.12 208.80,258.15 209.10,257.85 209.40,257.79 209.70,256.86 210.00,259.23 210.30,257.20 210.60,256.18 210.90,255.27 211.20,256.13 211.50,255.36 211.80,256.40 212.10,256.78 212.40,253.55 212.70,256.23 213.00,256.67 213.30,255.83 213.60,254.29 213.90,257.63 214.20,254.74 214.50,254.20 214.80,254.53 215.10,256.37 215.40,258.28 215.70,258.50 216.00,256.87" fill="none" stroke="#0c16a8" stroke-width="1.7" stroke-linejoin="round"/>
<text x="176.40" y="197.40" style="font-family:'Liberation Sans',Arial,sans-serif;font-size:7.0px;font-weight:bold;font-style:italic;fill:#000" text-anchor="start" >DMPO-•OH</text>
<text x="178.00" y="239.70" style="font-family:'Liberation Sans',Arial,sans-serif;font-size:6.8px;font-weight:bold;font-style:italic;fill:#000" text-anchor="start" >Dark</text>
<text x="178.00" y="283.10" style="font-family:'Liberation Sans',Arial,sans-serif;font-size:6.8px;font-weight:bold;font-style:italic;fill:#000" text-anchor="start" >Light</text>
<path d="M171.7,250.6 L177,243.6" stroke="#333" stroke-width="0.6"/><path d="M177.6,242.8 l-2.2,0.9 l1.4,1.1z" fill="#333"/>
<path d="M172.5,267.5 L178.7,275" stroke="#333" stroke-width="0.6"/><path d="M179.3,275.8 l-2.3,-0.6 l1.3,-1.2z" fill="#333"/>
<defs>
<radialGradient id="gC" cx="0.38" cy="0.35" r="0.7"><stop offset="0" stop-color="#d8d8d8"/><stop offset="0.3" stop-color="#7a7a7a"/><stop offset="1" stop-color="#343434"/></radialGradient>
<radialGradient id="gH" cx="0.38" cy="0.35" r="0.7"><stop offset="0" stop-color="#ffffff"/><stop offset="0.45" stop-color="#dcdcdc"/><stop offset="1" stop-color="#8a8a8a"/></radialGradient>
<radialGradient id="gO" cx="0.35" cy="0.32" r="0.7"><stop offset="0" stop-color="#ffb0b0"/><stop offset="0.35" stop-color="#ff1a1a"/><stop offset="1" stop-color="#b00000"/></radialGradient>
<radialGradient id="gHO" cx="0.35" cy="0.32" r="0.7"><stop offset="0" stop-color="#ffe0f0"/><stop offset="0.5" stop-color="#ff70b8"/><stop offset="1" stop-color="#d03080"/></radialGradient>
<linearGradient id="barOr" x1="0" y1="0" x2="0" y2="1"><stop offset="0" stop-color="#e98a52"/><stop offset="0.6" stop-color="#ec8e58"/><stop offset="0.72" stop-color="#f6bc96"/><stop offset="0.84" stop-color="#e8783a"/><stop offset="1" stop-color="#dc6418"/></linearGradient>
<linearGradient id="barBl" x1="0" y1="0" x2="0" y2="1"><stop offset="0" stop-color="#86b8dc"/><stop offset="0.6" stop-color="#78acd6"/><stop offset="0.72" stop-color="#a8cceb"/><stop offset="0.84" stop-color="#4e90c4"/><stop offset="1" stop-color="#3a7cb4"/></linearGradient>
<linearGradient id="barRd" x1="0" y1="0" x2="0" y2="1"><stop offset="0" stop-color="#ff3050"/><stop offset="0.6" stop-color="#ff1838"/><stop offset="0.74" stop-color="#ff7a96"/><stop offset="0.86" stop-color="#e81034"/><stop offset="1" stop-color="#d00828"/></linearGradient>
<linearGradient id="barKh" x1="0" y1="0" x2="0" y2="1"><stop offset="0" stop-color="#d2c25a"/><stop offset="0.6" stop-color="#ccba50"/><stop offset="0.72" stop-color="#e2d690"/><stop offset="0.84" stop-color="#b8a640"/><stop offset="1" stop-color="#a89636"/></linearGradient>
<linearGradient id="barBe" x1="0" y1="0" x2="0" y2="1"><stop offset="0" stop-color="#4a86d0"/><stop offset="0.6" stop-color="#3e7cc8"/><stop offset="0.72" stop-color="#78a8e0"/><stop offset="0.84" stop-color="#2e6cb8"/><stop offset="1" stop-color="#2460a8"/></linearGradient>
<linearGradient id="arD" x1="0" y1="0" x2="0" y2="1"><stop offset="0" stop-color="#fde0c8"/><stop offset="0.3" stop-color="#e4dcee"/><stop offset="0.6" stop-color="#78aef8"/><stop offset="1" stop-color="#0a70ff"/></linearGradient>
<linearGradient id="arP" x1="0" y1="0" x2="0" y2="1"><stop offset="0" stop-color="#f25898"/><stop offset="1" stop-color="#f8d4dc"/></linearGradient>
<linearGradient id="arE" x1="0" y1="0" x2="0" y2="1"><stop offset="0" stop-color="#f6a820"/><stop offset="0.45" stop-color="#b8b058"/><stop offset="1" stop-color="#1262c8"/></linearGradient>
<linearGradient id="cvB" x1="0" y1="1" x2="0" y2="0"><stop offset="0" stop-color="#e0f2fc"/><stop offset="0.5" stop-color="#8ccff2"/><stop offset="0.8" stop-color="#4c9acb"/><stop offset="1" stop-color="#2c6e9c"/></linearGradient>
<linearGradient id="cvP" x1="0" y1="0" x2="0" y2="1"><stop offset="0" stop-color="#fff0fc"/><stop offset="0.5" stop-color="#f8a0f0"/><stop offset="1" stop-color="#f010e0"/></linearGradient>
<linearGradient id="cvG" x1="0" y1="0" x2="0" y2="1"><stop offset="0" stop-color="#e8e8e8"/><stop offset="1" stop-color="#8a8a8a"/></linearGradient>
<linearGradient id="cvF" x1="0" y1="0" x2="0" y2="1"><stop offset="0" stop-color="#2a5cf0"/><stop offset="0.5" stop-color="#9a50f0"/><stop offset="1" stop-color="#f018d8"/></linearGradient>
</defs>
<text x="222.20" y="200.50" style="font-family:'Liberation Sans',Arial,sans-serif;font-size:16px;font-weight:bold;font-style:normal;fill:#000" text-anchor="start" >(d)</text>
<path d="M301.80,200.30 L354.20,200.30 Q356.80,200.30 356.80,202.90 L356.40,208.00 Q356.40,210.60 353.80,210.60 L297.30,210.60 Q293.80,210.60 294.40,208.04 L298.00,201.90 Q299.20,200.30 301.80,200.30 Z" fill="url(#barOr)"/>
<text x="304.16" y="208.90" style="font-family:'Liberation Sans',Arial,sans-serif;font-size:9.8px;font-weight:bold;font-style:italic;fill:#ffff00">e<tspan dy="-3.72" style="font-size:5.88px">-</tspan></text>
<text x="316.76" y="208.90" style="font-family:'Liberation Sans',Arial,sans-serif;font-size:9.8px;font-weight:bold;font-style:italic;fill:#ffff00">e<tspan dy="-3.72" style="font-size:5.88px">-</tspan></text>
<text x="330.46" y="208.90" style="font-family:'Liberation Sans',Arial,sans-serif;font-size:9.8px;font-weight:bold;font-style:italic;fill:#ffff00">e<tspan dy="-3.72" style="font-size:5.88px">-</tspan></text>
<text x="343.06" y="208.90" style="font-family:'Liberation Sans',Arial,sans-serif;font-size:9.8px;font-weight:bold;font-style:italic;fill:#ffff00">e<tspan dy="-3.72" style="font-size:5.88px">-</tspan></text>
<text x="310.00" y="197.80" style="font-family:'Liberation Sans',Arial,sans-serif;font-size:9.3px;font-weight:bold;font-style:italic;fill:#000" text-anchor="start" >–0.76 eV</text>
<path d="M326.50,222.30 L331.60,227.80 L329.45,227.80 L329.45,309.00 L323.55,309.00 L323.55,227.80 L321.40,227.80 Z" fill="url(#arD)"/>
<text x="301.90" y="264.80" style="font-family:'Liberation Sans',Arial,sans-serif;font-size:10.8px;font-weight:bold;font-style:italic">E<tspan dy="3.24" style="font-size:7.56px">g</tspan><tspan dy="-3.24">=3.46 eV</tspan></text>
<text x="331.70" y="306.20" style="font-family:'Liberation Sans',Arial,sans-serif;font-size:9.4px;font-weight:bold;font-style:italic;fill:#000" text-anchor="start" >2.70 eV</text>
<path d="M300.20,311.00 L354.00,311.00 Q356.60,311.00 356.60,313.60 L356.20,318.80 Q356.20,321.40 353.60,321.40 L296.40,321.40 Q292.90,321.40 293.50,318.84 L296.40,312.60 Q297.60,311.00 300.20,311.00 Z" fill="url(#barBl)"/>
<text x="300.56" y="319.00" style="font-family:'Liberation Sans',Arial,sans-serif;font-size:9.0px;font-weight:bold;font-style:italic;fill:#0a14f0">h<tspan dy="-3.60" style="font-size:5.58px">+</tspan></text>
<text x="314.95" y="319.00" style="font-family:'Liberation Sans',Arial,sans-serif;font-size:9.0px;font-weight:bold;font-style:italic;fill:#0a14f0">h<tspan dy="-3.60" style="font-size:5.58px">+</tspan></text>
<text x="329.06" y="319.00" style="font-family:'Liberation Sans',Arial,sans-serif;font-size:9.0px;font-weight:bold;font-style:italic;fill:#0a14f0">h<tspan dy="-3.60" style="font-size:5.58px">+</tspan></text>
<text x="343.36" y="319.00" style="font-family:'Liberation Sans',Arial,sans-serif;font-size:9.0px;font-weight:bold;font-style:italic;fill:#0a14f0">h<tspan dy="-3.60" style="font-size:5.58px">+</tspan></text>
<text x="307.40" y="339.10" style="font-family:'Liberation Sans',Arial,sans-serif;font-size:11.8px;font-weight:bold;font-style:italic;fill:#000" text-anchor="start" >BiOCl</text>
<text x="280.00" y="353.70" style="font-family:'Liberation Sans',Arial,sans-serif;font-size:12.2px;font-weight:bold;font-style:italic;fill:#000" text-anchor="start" >Photocatalysis</text>
<path d="M265.04,292.04L266.10,297.55M255.43,289.63L249.57,293.42M253.83,283.23L246.82,282.40M261.84,276.82L260.59,271.38M271.45,279.22L277.12,275.51" stroke="#b4b4b4" stroke-width="1.3" fill="none"/>
<path d="M273.85,285.31L265.04,292.04M265.04,292.04L255.43,289.63M255.43,289.63L253.83,283.23M253.83,283.23L261.84,276.82M261.84,276.82L271.45,279.22M271.45,279.22L273.85,285.31" stroke="#8c8c8c" stroke-width="2.3" fill="none"/>
<path d="M273.85,285.31L265.04,292.04M265.04,292.04L255.43,289.63M255.43,289.63L253.83,283.23M253.83,283.23L261.84,276.82M261.84,276.82L271.45,279.22M271.45,279.22L273.85,285.31" stroke="#c4c4c4" stroke-width="0.8" fill="none"/>
<path d="M273.85,285.31L278.66,285.87" stroke="#909090" stroke-width="1.8"/>
<path d="M278.66,285.87L283.47,286.43" stroke="#f03030" stroke-width="1.8"/>
<circle cx="266.10" cy="297.55" r="1.85" fill="url(#gH)"/>
<circle cx="249.57" cy="293.42" r="1.85" fill="url(#gH)"/>
<circle cx="246.82" cy="282.40" r="1.85" fill="url(#gH)"/>
<circle cx="260.59" cy="271.38" r="1.85" fill="url(#gH)"/>
<circle cx="277.12" cy="275.51" r="1.85" fill="url(#gH)"/>
<circle cx="284.27" cy="283.71" r="1.5" fill="url(#gHO)"/>
<circle cx="261.84" cy="276.82" r="2.75" fill="url(#gC)"/>
<circle cx="271.45" cy="279.22" r="2.75" fill="url(#gC)"/>
<circle cx="253.83" cy="283.23" r="2.75" fill="url(#gC)"/>
<circle cx="273.85" cy="285.31" r="2.75" fill="url(#gC)"/>
<circle cx="255.43" cy="289.63" r="2.75" fill="url(#gC)"/>
<circle cx="265.04" cy="292.04" r="2.75" fill="url(#gC)"/>
<circle cx="283.47" cy="286.43" r="2.5" fill="url(#gO)"/>
<text x="229.00" y="278.00" style="font-family:'Liberation Sans',Arial,sans-serif;font-size:7.7px;font-weight:bold;font-style:italic;fill:#000" text-anchor="start" >Phenol</text>
<text x="266.30" y="320.00" style="font-family:'Liberation Sans',Arial,sans-serif;font-size:14px;font-weight:bold;font-style:italic;fill:#1a70e8">h<tspan dy="-5.60" style="font-size:8.68px">+</tspan></text>
<path d="M283.93,303.45 L284.19,304.23 L284.43,305.02 L284.65,305.81 L284.84,306.60 L285.02,307.40 L285.17,308.20 L285.30,309.00 L285.40,309.80 L285.49,310.59 L285.55,311.39 L285.59,312.18 L285.60,312.96 L285.59,313.75 L285.56,314.52 L285.51,315.29 L285.44,316.05 L285.34,316.80 L285.22,317.54 L285.08,318.27 L284.91,318.98 L284.73,319.68 L284.52,320.37 L284.29,321.04 L284.03,321.70 L283.76,322.34 L283.47,322.96 L283.15,323.56 L282.81,324.14 L282.45,324.70 L282.08,325.24 L285.12,327.16 L285.50,326.44 L285.84,325.71 L286.16,324.96 L286.44,324.20 L286.70,323.43 L286.92,322.65 L287.12,321.87 L287.28,321.07 L287.42,320.27 L287.54,319.46 L287.62,318.64 L287.68,317.82 L287.72,316.99 L287.73,316.17 L287.71,315.34 L287.67,314.50 L287.61,313.67 L287.52,312.84 L287.40,312.01 L287.27,311.18 L287.11,310.35 L286.93,309.52 L286.72,308.70 L286.49,307.89 L286.24,307.08 L285.97,306.27 L285.68,305.48 L285.36,304.69 L285.03,303.91 L284.67,303.15 Z" fill="url(#cvP)"/>
<path d="M280.30,331.20 L280.35,324.05 L286.85,328.35 Z" fill="#f020e8"/>
<g transform="matrix(1.12,0,0,1,-28.76,0)"><text x="239.70" y="335.00" style="font-family:'Liberation Sans',Arial,sans-serif;font-size:8.4px;font-weight:bold;font-style:italic">CO<tspan dy="2.10" style="font-size:5.04px">2</tspan><tspan dy="-2.10">+H</tspan><tspan dy="2.10" style="font-size:5.04px">2</tspan><tspan dy="-2.10">O</tspan></text></g>
<path d="M384.03,235.74L386.02,241.03M374.30,234.60L369.29,239.06M370.87,227.73L363.39,227.25M378.31,221.44L376.18,216.43M388.03,222.01L392.91,217.41" stroke="#b4b4b4" stroke-width="1.3" fill="none"/>
<path d="M392.04,228.88L384.03,235.74M384.03,235.74L374.30,234.60M374.30,234.60L370.87,227.73M370.87,227.73L378.31,221.44M378.31,221.44L388.03,222.01M388.03,222.01L392.04,228.88" stroke="#8c8c8c" stroke-width="2.3" fill="none"/>
<path d="M392.04,228.88L384.03,235.74M384.03,235.74L374.30,234.60M374.30,234.60L370.87,227.73M370.87,227.73L378.31,221.44M378.31,221.44L388.03,222.01M388.03,222.01L392.04,228.88" stroke="#c4c4c4" stroke-width="0.8" fill="none"/>
<path d="M392.04,228.88L396.04,229.16" stroke="#909090" stroke-width="1.8"/>
<path d="M396.04,229.16L400.05,229.45" stroke="#f03030" stroke-width="1.8"/>
<circle cx="386.02" cy="241.03" r="1.85" fill="url(#gH)"/>
<circle cx="369.29" cy="239.06" r="1.85" fill="url(#gH)"/>
<circle cx="363.39" cy="227.25" r="1.85" fill="url(#gH)"/>
<circle cx="376.18" cy="216.43" r="1.85" fill="url(#gH)"/>
<circle cx="392.91" cy="217.41" r="1.85" fill="url(#gH)"/>
<circle cx="402.33" cy="226.02" r="1.5" fill="url(#gHO)"/>
<circle cx="402.91" cy="231.17" r="1.5" fill="url(#gHO)"/>
<circle cx="378.31" cy="221.44" r="2.75" fill="url(#gC)"/>
<circle cx="388.03" cy="222.01" r="2.75" fill="url(#gC)"/>
<circle cx="370.87" cy="227.73" r="2.75" fill="url(#gC)"/>
<circle cx="392.04" cy="228.88" r="2.75" fill="url(#gC)"/>
<circle cx="374.30" cy="234.60" r="2.75" fill="url(#gC)"/>
<circle cx="384.03" cy="235.74" r="2.75" fill="url(#gC)"/>
<circle cx="400.05" cy="229.45" r="2.5" fill="url(#gO)"/>
<path d="M367.99,226.99 L367.42,226.12 L366.90,225.21 L366.42,224.25 L365.98,223.26 L365.59,222.23 L365.23,221.17 L364.93,220.08 L364.66,218.95 L364.44,217.80 L364.27,216.62 L364.13,215.42 L364.05,214.20 L364.01,212.97 L364.01,211.71 L364.06,210.45 L364.16,209.17 L364.30,207.88 L364.49,206.59 L364.73,205.30 L365.02,204.00 L365.35,202.70 L365.73,201.41 L366.16,200.13 L366.64,198.85 L367.16,197.59 L367.74,196.34 L368.36,195.10 L369.04,193.88 L369.76,192.69 L370.53,191.51 L366.27,188.89 L365.52,190.29 L364.83,191.72 L364.20,193.15 L363.63,194.59 L363.11,196.05 L362.66,197.50 L362.27,198.96 L361.93,200.42 L361.64,201.88 L361.41,203.33 L361.24,204.77 L361.12,206.21 L361.05,207.63 L361.03,209.04 L361.06,210.43 L361.15,211.80 L361.28,213.15 L361.46,214.48 L361.69,215.78 L361.97,217.05 L362.30,218.29 L362.67,219.50 L363.09,220.67 L363.55,221.80 L364.05,222.89 L364.60,223.93 L365.19,224.93 L365.82,225.88 L366.50,226.77 L367.21,227.61 Z" fill="url(#cvB)"/>
<path d="M374.70,185.00 L371.33,193.75 L365.47,186.65 Z" fill="#2c6e9c"/>
<g transform="matrix(1.12,0,0,1,-45.19,0)"><text x="376.60" y="191.40" style="font-family:'Liberation Sans',Arial,sans-serif;font-size:8.4px;font-weight:bold;font-style:italic">CO<tspan dy="2.10" style="font-size:5.04px">2</tspan><tspan dy="-2.10">+H</tspan><tspan dy="2.10" style="font-size:5.04px">2</tspan><tspan dy="-2.10">O</tspan></text></g>
<ellipse cx="372.40" cy="205.80" rx="2.6" ry="2.4" fill="#1a70e8"/>
<g transform="matrix(0.92,0,0,1,30.02,0)"><text x="375.20" y="210.40" style="font-family:'Liberation Sans',Arial,sans-serif;font-size:13.6px;font-weight:bold;font-style:italic;fill:#1a70e8">O<tspan dy="3.26" style="font-size:8.16px">2</tspan><tspan dx="1.36" dy="-8.43" style="font-size:8.16px;font-style:normal">−</tspan></text></g>
<defs>
<clipPath id="gclip"><rect x="7.6" y="360.5" width="300" height="190"/></clipPath>
<radialGradient id="gA" gradientUnits="userSpaceOnUse" cx="1.0" cy="359.0" r="260"><stop offset="0" stop-color="#ffff00" stop-opacity="1"/><stop offset="0.1" stop-color="#ffff00" stop-opacity="0.9"/><stop offset="0.2" stop-color="#ffff00" stop-opacity="0.52"/><stop offset="0.31" stop-color="#ffff00" stop-opacity="0.3"/><stop offset="0.46" stop-color="#ffff00" stop-opacity="0.13"/><stop offset="0.65" stop-color="#ffff00" stop-opacity="0.04"/><stop offset="0.85" stop-color="#ffff00" stop-opacity="0"/></radialGradient>
<radialGradient id="gB" gradientUnits="userSpaceOnUse" cx="1.0" cy="359.0" r="200"><stop offset="0" stop-color="#ffff00" stop-opacity="1"/><stop offset="0.3" stop-color="#ffff00" stop-opacity="0.95"/><stop offset="0.5" stop-color="#ffff00" stop-opacity="0.8"/><stop offset="0.7" stop-color="#ffff00" stop-opacity="0.42"/><stop offset="0.86" stop-color="#ffff00" stop-opacity="0.12"/><stop offset="1" stop-color="#ffff00" stop-opacity="0"/></radialGradient>
<radialGradient id="gC2" gradientUnits="userSpaceOnUse" cx="1.0" cy="359.0" r="270"><stop offset="0" stop-color="#ffff00" stop-opacity="0.5"/><stop offset="0.35" stop-color="#ffff00" stop-opacity="0.42"/><stop offset="0.6" stop-color="#ffff00" stop-opacity="0.28"/><stop offset="0.85" stop-color="#ffff00" stop-opacity="0.1"/><stop offset="1" stop-color="#ffff00" stop-opacity="0"/></radialGradient>
<filter id="bl3" x="-50%" y="-50%" width="200%" height="200%"><feGaussianBlur stdDeviation="4"/></filter>
<filter id="bl6" x="-50%" y="-50%" width="200%" height="200%"><feGaussianBlur stdDeviation="6"/></filter>
</defs>
<g clip-path="url(#gclip)">
<path d="M-3.0,355.0 L295.9,328.9 L296.8,342.9 L297.0,357.0 L296.6,371.0 L295.5,385.1 L293.8,399.0 L291.4,412.9 L288.3,426.6 L284.6,440.2 L280.3,453.6 L275.4,466.8 L269.9,479.7 L263.7,492.4 L257.0,504.7 L249.7,516.7 L241.8,528.4 L233.4,539.7 L224.5,550.6 L215.1,561.0 L205.2,571.0 L194.8,580.6 L184.0,589.6 L172.8,598.1 L161.2,606.1 L149.3,613.5 Z" fill="url(#gA)" filter="url(#bl6)"/>
<path d="M1.0,359.0 L318.6,398.0 L318.3,400.3 L318.0,402.6 L317.7,404.9 L317.3,407.2 L317.0,409.5 L316.6,411.8 L316.2,414.1 L315.8,416.4 L315.4,418.7 L314.9,421.0 L314.5,423.3 L314.0,425.5 L313.5,427.8 L313.0,430.1 L312.5,432.3 L311.9,434.6 L311.4,436.9 L310.8,439.1 L310.2,441.4 L309.6,443.6 L309.0,445.9 L308.3,448.1 L307.7,450.3 L307.0,452.6 Z" fill="url(#gC2)" filter="url(#bl6)"/>
<path d="M1.0,359.0 L171.3,562.0 L169.9,563.2 L168.5,564.3 L167.1,565.5 L165.7,566.6 L164.2,567.8 L162.8,568.9 L161.3,570.0 L159.9,571.1 L158.4,572.2 L156.9,573.3 L155.4,574.3 L153.9,575.4 L152.4,576.5 L150.9,577.5 L149.4,578.5 L147.9,579.6 L146.4,580.6 L144.8,581.6 L143.3,582.6 L141.8,583.5 L140.2,584.5 L138.6,585.5 L137.1,586.4 L135.5,587.3 Z" fill="url(#gB)" filter="url(#bl3)"/>
</g>
<text x="8.20" y="376.00" style="font-family:'Liberation Sans',Arial,sans-serif;font-size:15px;font-weight:bold;font-style:normal;fill:#000" text-anchor="start" >(e)</text>
<path d="M54.90,381.60 L110.80,381.60 Q113.40,381.60 113.40,384.20 L113.00,388.10 Q113.00,390.70 110.40,390.70 L50.40,390.70 Q46.90,390.70 47.50,388.14 L51.10,383.20 Q52.30,381.60 54.90,381.60 Z" fill="url(#barRd)"/>
<text x="56.26" y="389.20" style="font-family:'Liberation Sans',Arial,sans-serif;font-size:9.8px;font-weight:bold;font-style:italic;fill:#ffe81a">e<tspan dy="-3.72" style="font-size:5.88px">-</tspan></text>
<text x="68.86" y="389.20" style="font-family:'Liberation Sans',Arial,sans-serif;font-size:9.8px;font-weight:bold;font-style:italic;fill:#ffe81a">e<tspan dy="-3.72" style="font-size:5.88px">-</tspan></text>
<text x="81.46" y="389.20" style="font-family:'Liberation Sans',Arial,sans-serif;font-size:9.8px;font-weight:bold;font-style:italic;fill:#ffe81a">e<tspan dy="-3.72" style="font-size:5.88px">-</tspan></text>
<text x="94.26" y="389.20" style="font-family:'Liberation Sans',Arial,sans-serif;font-size:9.8px;font-weight:bold;font-style:italic;fill:#ffe81a">e<tspan dy="-3.72" style="font-size:5.88px">-</tspan></text>
<text x="63.70" y="378.20" style="font-family:'Liberation Sans',Arial,sans-serif;font-size:9.2px;font-weight:bold;font-style:italic;fill:#000" text-anchor="start" >–0.30 eV</text>
<path d="M83.00,392.60 L87.80,397.40 L85.70,397.40 L85.70,409.50 L80.30,409.50 L80.30,397.40 L78.20,397.40 Z" fill="url(#arP)"/>
<path d="M52.60,408.80 L111.20,408.80 Q113.80,408.80 113.80,411.40 L113.40,414.40 Q113.40,417.00 110.80,417.00 L49.80,417.00 Q46.30,417.00 46.90,414.44 L48.80,410.40 Q50.00,408.80 52.60,408.80 Z" fill="url(#barKh)"/>
<path d="M83.60,419.00 L87.10,424.00 L85.40,424.00 L85.40,474.00 L81.80,474.00 L81.80,424.00 L80.10,424.00 Z" fill="url(#arE)"/>
<text x="50.30" y="435.90" style="font-family:'Liberation Sans',Arial,sans-serif;font-size:12.0px;font-weight:bold;font-style:italic">E<tspan dy="3.60" style="font-size:8.40px">g</tspan><tspan dy="-3.60">=2.96 eV</tspan></text>
<text x="87.80" y="472.30" style="font-family:'Liberation Sans',Arial,sans-serif;font-size:9.2px;font-weight:bold;font-style:italic;fill:#000" text-anchor="start" >2.66 eV</text>
<path d="M61.10,476.20 L116.80,476.20 Q119.40,476.20 119.40,478.80 L119.00,483.70 Q119.00,486.30 116.40,486.30 L56.60,486.30 Q53.10,486.30 53.70,483.74 L57.30,477.80 Q58.50,476.20 61.10,476.20 Z" fill="url(#barBe)"/>
<text x="62.12" y="484.00" style="font-family:'Liberation Sans',Arial,sans-serif;font-size:8.8px;font-weight:bold;font-style:italic;fill:#ffff20">h<tspan dy="-3.52" style="font-size:5.46px">+</tspan></text>
<text x="76.62" y="484.00" style="font-family:'Liberation Sans',Arial,sans-serif;font-size:8.8px;font-weight:bold;font-style:italic;fill:#ffff20">h<tspan dy="-3.52" style="font-size:5.46px">+</tspan></text>
<text x="90.52" y="484.00" style="font-family:'Liberation Sans',Arial,sans-serif;font-size:8.8px;font-weight:bold;font-style:italic;fill:#ffff20">h<tspan dy="-3.52" style="font-size:5.46px">+</tspan></text>
<text x="104.12" y="484.00" style="font-family:'Liberation Sans',Arial,sans-serif;font-size:8.8px;font-weight:bold;font-style:italic;fill:#ffff20">h<tspan dy="-3.52" style="font-size:5.46px">+</tspan></text>
<path d="M250.10,382.20 L306.00,382.20 Q308.60,382.20 308.60,384.80 L308.20,388.70 Q308.20,391.30 305.60,391.30 L245.60,391.30 Q242.10,391.30 242.70,388.74 L246.30,383.80 Q247.50,382.20 250.10,382.20 Z" fill="url(#barRd)"/>
<text x="252.46" y="389.80" style="font-family:'Liberation Sans',Arial,sans-serif;font-size:9.8px;font-weight:bold;font-style:italic;fill:#ffe81a">e<tspan dy="-3.72" style="font-size:5.88px">-</tspan></text>
<text x="265.06" y="389.80" style="font-family:'Liberation Sans',Arial,sans-serif;font-size:9.8px;font-weight:bold;font-style:italic;fill:#ffe81a">e<tspan dy="-3.72" style="font-size:5.88px">-</tspan></text>
<text x="277.66" y="389.80" style="font-family:'Liberation Sans',Arial,sans-serif;font-size:9.8px;font-weight:bold;font-style:italic;fill:#ffe81a">e<tspan dy="-3.72" style="font-size:5.88px">-</tspan></text>
<text x="290.46" y="389.80" style="font-family:'Liberation Sans',Arial,sans-serif;font-size:9.8px;font-weight:bold;font-style:italic;fill:#ffe81a">e<tspan dy="-3.72" style="font-size:5.88px">-</tspan></text>
<text x="259.90" y="378.80" style="font-family:'Liberation Sans',Arial,sans-serif;font-size:9.2px;font-weight:bold;font-style:italic;fill:#000" text-anchor="start" >–0.30 eV</text>
<path d="M279.20,393.20 L284.00,398.00 L281.90,398.00 L281.90,410.10 L276.50,410.10 L276.50,398.00 L274.40,398.00 Z" fill="url(#arP)"/>
<path d="M248.80,409.40 L307.40,409.40 Q310.00,409.40 310.00,412.00 L309.60,415.00 Q309.60,417.60 307.00,417.60 L246.00,417.60 Q242.50,417.60 243.10,415.04 L245.00,411.00 Q246.20,409.40 248.80,409.40 Z" fill="url(#barKh)"/>
<path d="M279.80,419.60 L283.30,424.60 L281.60,424.60 L281.60,474.60 L278.00,474.60 L278.00,424.60 L276.30,424.60 Z" fill="url(#arE)"/>
<text x="250.40" y="436.50" style="font-family:'Liberation Sans',Arial,sans-serif;font-size:12.0px;font-weight:bold;font-style:italic">E<tspan dy="3.60" style="font-size:8.40px">g</tspan><tspan dy="-3.60">=2.96 eV</tspan></text>
<text x="284.00" y="472.90" style="font-family:'Liberation Sans',Arial,sans-serif;font-size:9.2px;font-weight:bold;font-style:italic;fill:#000" text-anchor="start" >2.66 eV</text>
<path d="M257.30,476.80 L313.00,476.80 Q315.60,476.80 315.60,479.40 L315.20,484.30 Q315.20,486.90 312.60,486.90 L252.80,486.90 Q249.30,486.90 249.90,484.34 L253.50,478.40 Q254.70,476.80 257.30,476.80 Z" fill="url(#barBe)"/>
<text x="258.32" y="484.60" style="font-family:'Liberation Sans',Arial,sans-serif;font-size:8.8px;font-weight:bold;font-style:italic;fill:#ffff20">h<tspan dy="-3.52" style="font-size:5.46px">+</tspan></text>
<text x="272.82" y="484.60" style="font-family:'Liberation Sans',Arial,sans-serif;font-size:8.8px;font-weight:bold;font-style:italic;fill:#ffff20">h<tspan dy="-3.52" style="font-size:5.46px">+</tspan></text>
<text x="286.72" y="484.60" style="font-family:'Liberation Sans',Arial,sans-serif;font-size:8.8px;font-weight:bold;font-style:italic;fill:#ffff20">h<tspan dy="-3.52" style="font-size:5.46px">+</tspan></text>
<text x="300.32" y="484.60" style="font-family:'Liberation Sans',Arial,sans-serif;font-size:8.8px;font-weight:bold;font-style:italic;fill:#ffff20">h<tspan dy="-3.52" style="font-size:5.46px">+</tspan></text>
<path d="M25.63,460.34L27.45,465.19M16.02,459.54L10.92,463.81M12.81,452.49L5.41,451.69M20.82,446.73L19.19,441.77M30.43,447.69L35.72,443.42" stroke="#b4b4b4" stroke-width="1.3" fill="none"/>
<path d="M32.84,454.90L25.63,460.34M25.63,460.34L16.02,459.54M16.02,459.54L12.81,452.49M12.81,452.49L20.82,446.73M20.82,446.73L30.43,447.69M30.43,447.69L32.84,454.90" stroke="#8c8c8c" stroke-width="2.3" fill="none"/>
<path d="M32.84,454.90L25.63,460.34M25.63,460.34L16.02,459.54M16.02,459.54L12.81,452.49M12.81,452.49L20.82,446.73M20.82,446.73L30.43,447.69M30.43,447.69L32.84,454.90" stroke="#c4c4c4" stroke-width="0.8" fill="none"/>
<path d="M32.84,454.90L37.64,455.22" stroke="#909090" stroke-width="1.8"/>
<path d="M37.64,455.22L42.45,455.54" stroke="#f03030" stroke-width="1.8"/>
<circle cx="27.45" cy="465.19" r="1.85" fill="url(#gH)"/>
<circle cx="10.92" cy="463.81" r="1.85" fill="url(#gH)"/>
<circle cx="5.41" cy="451.69" r="1.85" fill="url(#gH)"/>
<circle cx="19.19" cy="441.77" r="1.85" fill="url(#gH)"/>
<circle cx="35.72" cy="443.42" r="1.85" fill="url(#gH)"/>
<circle cx="44.05" cy="452.01" r="1.5" fill="url(#gHO)"/>
<circle cx="20.82" cy="446.73" r="2.75" fill="url(#gC)"/>
<circle cx="30.43" cy="447.69" r="2.75" fill="url(#gC)"/>
<circle cx="12.81" cy="452.49" r="2.75" fill="url(#gC)"/>
<circle cx="32.84" cy="454.90" r="2.75" fill="url(#gC)"/>
<circle cx="16.02" cy="459.54" r="2.75" fill="url(#gC)"/>
<circle cx="25.63" cy="460.34" r="2.75" fill="url(#gC)"/>
<circle cx="42.45" cy="455.54" r="2.5" fill="url(#gO)"/>
<text x="33.60" y="469.20" style="font-family:'Liberation Sans',Arial,sans-serif;font-size:7.7px;font-weight:bold;font-style:italic;fill:#000" text-anchor="start" >Phenol</text>
<text x="24.80" y="490.50" style="font-family:'Liberation Sans',Arial,sans-serif;font-size:14px;font-weight:bold;font-style:italic;fill:#1a70e8">h<tspan dy="-5.60" style="font-size:8.68px">+</tspan></text>
<path d="M45.23,472.95 L45.49,473.77 L45.73,474.59 L45.95,475.41 L46.14,476.22 L46.32,477.03 L46.47,477.83 L46.60,478.61 L46.71,479.39 L46.80,480.16 L46.86,480.91 L46.90,481.66 L46.92,482.39 L46.92,483.10 L46.90,483.80 L46.85,484.48 L46.78,485.15 L46.70,485.80 L46.59,486.42 L46.46,487.03 L46.31,487.61 L46.14,488.17 L45.95,488.71 L45.74,489.22 L45.52,489.70 L45.27,490.16 L45.01,490.59 L44.74,490.99 L44.45,491.36 L44.15,491.71 L43.83,492.03 L46.57,494.37 L46.95,493.82 L47.29,493.26 L47.60,492.67 L47.88,492.06 L48.13,491.44 L48.35,490.81 L48.53,490.15 L48.69,489.49 L48.82,488.81 L48.92,488.12 L49.00,487.42 L49.05,486.71 L49.07,485.99 L49.07,485.26 L49.05,484.52 L49.00,483.77 L48.93,483.01 L48.84,482.24 L48.72,481.47 L48.58,480.69 L48.41,479.90 L48.23,479.11 L48.02,478.31 L47.79,477.51 L47.54,476.70 L47.27,475.90 L46.98,475.09 L46.66,474.28 L46.33,473.47 L45.97,472.65 Z" fill="url(#cvP)"/>
<path d="M42.00,498.00 L41.96,491.04 L48.44,495.36 Z" fill="#f020e8"/>
<g transform="matrix(1.12,0,0,1,-2.11,0)"><text x="17.60" y="508.90" style="font-family:'Liberation Sans',Arial,sans-serif;font-size:8.4px;font-weight:bold;font-style:italic">CO<tspan dy="2.10" style="font-size:5.04px">2</tspan><tspan dy="-2.10">+H</tspan><tspan dy="2.10" style="font-size:5.04px">2</tspan><tspan dy="-2.10">O</tspan></text></g>
<path d="M139.29,418.58L141.60,423.52M128.31,418.58L122.70,423.52M125.56,411.26L117.98,410.93M132.88,404.85L130.58,399.91M143.87,404.85L149.47,399.91" stroke="#b4b4b4" stroke-width="1.3" fill="none"/>
<path d="M146.61,412.17L139.29,418.58M139.29,418.58L128.31,418.58M128.31,418.58L125.56,411.26M125.56,411.26L132.88,404.85M132.88,404.85L143.87,404.85M143.87,404.85L146.61,412.17" stroke="#8c8c8c" stroke-width="2.3" fill="none"/>
<path d="M146.61,412.17L139.29,418.58M139.29,418.58L128.31,418.58M128.31,418.58L125.56,411.26M125.56,411.26L132.88,404.85M132.88,404.85L143.87,404.85M143.87,404.85L146.61,412.17" stroke="#c4c4c4" stroke-width="0.8" fill="none"/>
<path d="M146.61,412.17L151.19,412.45" stroke="#909090" stroke-width="1.8"/>
<path d="M151.19,412.45L155.77,412.72" stroke="#f03030" stroke-width="1.8"/>
<circle cx="141.60" cy="423.52" r="1.85" fill="url(#gH)"/>
<circle cx="122.70" cy="423.52" r="1.85" fill="url(#gH)"/>
<circle cx="117.98" cy="410.93" r="1.85" fill="url(#gH)"/>
<circle cx="130.58" cy="399.91" r="1.85" fill="url(#gH)"/>
<circle cx="149.47" cy="399.91" r="1.85" fill="url(#gH)"/>
<circle cx="157.23" cy="408.51" r="1.5" fill="url(#gHO)"/>
<circle cx="156.68" cy="415.29" r="1.5" fill="url(#gHO)"/>
<circle cx="132.88" cy="404.85" r="2.75" fill="url(#gC)"/>
<circle cx="143.87" cy="404.85" r="2.75" fill="url(#gC)"/>
<circle cx="125.56" cy="411.26" r="2.75" fill="url(#gC)"/>
<circle cx="146.61" cy="412.17" r="2.75" fill="url(#gC)"/>
<circle cx="139.29" cy="418.58" r="2.75" fill="url(#gC)"/>
<circle cx="128.31" cy="418.58" r="2.75" fill="url(#gC)"/>
<circle cx="155.77" cy="412.72" r="2.5" fill="url(#gO)"/>
<path d="M121.91,409.71 L121.35,408.77 L120.83,407.79 L120.36,406.78 L119.93,405.74 L119.54,404.66 L119.20,403.55 L118.90,402.41 L118.65,401.25 L118.44,400.07 L118.28,398.86 L118.16,397.64 L118.09,396.40 L118.07,395.14 L118.10,393.88 L118.17,392.60 L118.30,391.32 L118.47,390.03 L118.70,388.75 L118.97,387.46 L119.30,386.17 L119.67,384.89 L120.10,383.62 L120.58,382.35 L121.12,381.10 L121.70,379.86 L122.34,378.64 L123.03,377.44 L123.78,376.25 L124.58,375.09 L125.44,373.95 L121.36,371.05 L120.50,372.43 L119.71,373.84 L118.98,375.25 L118.33,376.68 L117.73,378.12 L117.21,379.57 L116.74,381.02 L116.34,382.48 L116.00,383.93 L115.72,385.38 L115.50,386.83 L115.33,388.27 L115.22,389.70 L115.17,391.12 L115.18,392.52 L115.23,393.91 L115.34,395.28 L115.50,396.63 L115.71,397.95 L115.98,399.25 L116.29,400.52 L116.64,401.76 L117.05,402.97 L117.50,404.14 L117.99,405.27 L118.53,406.37 L119.11,407.42 L119.73,408.43 L120.39,409.38 L121.09,410.29 Z" fill="url(#cvB)"/>
<path d="M129.50,367.30 L126.38,376.00 L120.42,369.00 Z" fill="#2c6e9c"/>
<g transform="matrix(1.12,0,0,1,-15.72,0)"><text x="131.00" y="374.30" style="font-family:'Liberation Sans',Arial,sans-serif;font-size:8.4px;font-weight:bold;font-style:italic">CO<tspan dy="2.10" style="font-size:5.04px">2</tspan><tspan dy="-2.10">+H</tspan><tspan dy="2.10" style="font-size:5.04px">2</tspan><tspan dy="-2.10">O</tspan></text></g>
<ellipse cx="127.70" cy="389.00" rx="2.6" ry="2.4" fill="#1a70e8"/>
<g transform="matrix(0.92,0,0,1,10.44,0)"><text x="130.50" y="393.60" style="font-family:'Liberation Sans',Arial,sans-serif;font-size:14.3px;font-weight:bold;font-style:italic;fill:#1a70e8">O<tspan dy="3.43" style="font-size:8.58px">2</tspan><tspan dx="1.43" dy="-8.87" style="font-size:8.58px;font-style:normal">−</tspan></text></g>
<text x="129.20" y="436.50" style="font-family:'Liberation Sans',Arial,sans-serif;font-size:7.7px;font-weight:bold;font-style:italic;fill:#000" text-anchor="start" >Phenol</text>
<path d="M142.95,466.12L144.16,471.28M132.88,464.29L126.84,468.14M131.97,456.97L125.27,455.54M139.29,452.39L137.86,447.67M149.36,453.31L155.18,449.24" stroke="#b4b4b4" stroke-width="1.3" fill="none"/>
<path d="M151.19,460.63L142.95,466.12M142.95,466.12L132.88,464.29M132.88,464.29L131.97,456.97M131.97,456.97L139.29,452.39M139.29,452.39L149.36,453.31M149.36,453.31L151.19,460.63" stroke="#8c8c8c" stroke-width="2.3" fill="none"/>
<path d="M151.19,460.63L142.95,466.12M142.95,466.12L132.88,464.29M132.88,464.29L131.97,456.97M131.97,456.97L139.29,452.39M139.29,452.39L149.36,453.31M149.36,453.31L151.19,460.63" stroke="#c4c4c4" stroke-width="0.8" fill="none"/>
<path d="M151.19,460.63L156.41,461.09" stroke="#909090" stroke-width="1.8"/>
<path d="M156.41,461.09L161.62,461.54" stroke="#f03030" stroke-width="1.8"/>
<circle cx="144.16" cy="471.28" r="1.85" fill="url(#gH)"/>
<circle cx="126.84" cy="468.14" r="1.85" fill="url(#gH)"/>
<circle cx="125.27" cy="455.54" r="1.85" fill="url(#gH)"/>
<circle cx="137.86" cy="447.67" r="1.85" fill="url(#gH)"/>
<circle cx="155.18" cy="449.24" r="1.85" fill="url(#gH)"/>
<circle cx="163.09" cy="457.88" r="1.5" fill="url(#gHO)"/>
<circle cx="139.29" cy="452.39" r="2.75" fill="url(#gC)"/>
<circle cx="149.36" cy="453.31" r="2.75" fill="url(#gC)"/>
<circle cx="131.97" cy="456.97" r="2.75" fill="url(#gC)"/>
<circle cx="151.19" cy="460.63" r="2.75" fill="url(#gC)"/>
<circle cx="132.88" cy="464.29" r="2.75" fill="url(#gC)"/>
<circle cx="142.95" cy="466.12" r="2.75" fill="url(#gC)"/>
<circle cx="161.62" cy="461.54" r="2.5" fill="url(#gO)"/>
<path d="M128.03,472.00 L127.37,472.56 L126.75,473.15 L126.17,473.76 L125.62,474.39 L125.11,475.04 L124.64,475.71 L124.22,476.40 L123.83,477.10 L123.48,477.82 L123.18,478.55 L122.92,479.29 L122.71,480.05 L122.54,480.81 L122.42,481.58 L122.35,482.35 L122.33,483.13 L122.36,483.91 L122.44,484.68 L122.58,485.46 L122.77,486.23 L123.01,486.99 L123.32,487.74 L123.68,488.48 L124.10,489.20 L124.58,489.91 L125.12,490.59 L125.72,491.24 L126.37,491.87 L127.08,492.47 L127.86,493.03 L129.74,489.97 L129.11,489.60 L128.52,489.21 L127.97,488.80 L127.46,488.37 L127.00,487.92 L126.58,487.44 L126.20,486.95 L125.85,486.43 L125.55,485.90 L125.28,485.35 L125.06,484.78 L124.87,484.19 L124.72,483.59 L124.62,482.98 L124.55,482.35 L124.52,481.71 L124.54,481.06 L124.60,480.40 L124.69,479.74 L124.83,479.07 L125.02,478.40 L125.24,477.73 L125.51,477.06 L125.82,476.40 L126.17,475.74 L126.57,475.08 L127.00,474.44 L127.48,473.81 L128.01,473.20 L128.57,472.60 Z" fill="url(#cvG)"/>
<path d="M133.80,495.60 L126.33,494.52 L131.27,488.48 Z" fill="#8a8a8a"/>
<ellipse cx="145.6" cy="482.2" rx="2.5" ry="2.2" fill="#8c8c8c"/>
<text x="147.6" y="486.3" style="font-family:'Liberation Sans',Arial,sans-serif;font-size:12.8px;font-weight:bold;font-style:italic;fill:#8c8c8c">OH</text>
<g transform="matrix(1.12,0,0,1,-15.13,0)"><text x="126.10" y="507.00" style="font-family:'Liberation Sans',Arial,sans-serif;font-size:8.4px;font-weight:bold;font-style:italic">CO<tspan dy="2.10" style="font-size:5.04px">2</tspan><tspan dy="-2.10">+H</tspan><tspan dy="2.10" style="font-size:5.04px">2</tspan><tspan dy="-2.10">O</tspan></text></g>
<g transform="matrix(1.11,0,0,1,-5.73,0)"><text x="52.1" y="526.0" style="font-family:'Liberation Sans',Arial,sans-serif;font-size:12.8px;font-weight:bold;font-style:italic">Fe-BiOCl-V<tspan dy="2.8" style="font-size:9.5px">o</tspan></text></g>
<g transform="matrix(1.105,0,0,1,-4.44,0)"><text x="42.3" y="542.3" style="font-family:'Liberation Sans',Arial,sans-serif;font-size:12.6px;font-weight:bold;font-style:italic">Photocatalysis</text></g>
<path d="M222.46,408.09L224.22,402.49M228.87,413.58L235.24,411.93M227.04,421.82L232.09,426.10M217.88,423.65L216.35,429.25M211.48,418.16L205.32,419.81" stroke="#b4b4b4" stroke-width="1.3" fill="none"/>
<path d="M212.39,409.92L222.46,408.09M222.46,408.09L228.87,413.58M228.87,413.58L227.04,421.82M227.04,421.82L217.88,423.65M217.88,423.65L211.48,418.16M211.48,418.16L212.39,409.92" stroke="#8c8c8c" stroke-width="2.3" fill="none"/>
<path d="M212.39,409.92L222.46,408.09M222.46,408.09L228.87,413.58M228.87,413.58L227.04,421.82M227.04,421.82L217.88,423.65M217.88,423.65L211.48,418.16M211.48,418.16L212.39,409.92" stroke="#c4c4c4" stroke-width="0.8" fill="none"/>
<path d="M212.39,409.92L208.73,408.55" stroke="#909090" stroke-width="1.8"/>
<path d="M208.73,408.55L205.07,407.17" stroke="#f03030" stroke-width="1.8"/>
<circle cx="224.22" cy="402.49" r="1.85" fill="url(#gH)"/>
<circle cx="235.24" cy="411.93" r="1.85" fill="url(#gH)"/>
<circle cx="232.09" cy="426.10" r="1.85" fill="url(#gH)"/>
<circle cx="216.35" cy="429.25" r="1.85" fill="url(#gH)"/>
<circle cx="205.32" cy="419.81" r="1.85" fill="url(#gH)"/>
<circle cx="201.41" cy="404.43" r="1.5" fill="url(#gHO)"/>
<circle cx="202.32" cy="409.92" r="1.5" fill="url(#gHO)"/>
<circle cx="222.46" cy="408.09" r="2.75" fill="url(#gC)"/>
<circle cx="212.39" cy="409.92" r="2.75" fill="url(#gC)"/>
<circle cx="228.87" cy="413.58" r="2.75" fill="url(#gC)"/>
<circle cx="211.48" cy="418.16" r="2.75" fill="url(#gC)"/>
<circle cx="227.04" cy="421.82" r="2.75" fill="url(#gC)"/>
<circle cx="217.88" cy="423.65" r="2.75" fill="url(#gC)"/>
<circle cx="205.07" cy="407.17" r="2.5" fill="url(#gO)"/>
<path d="M230.18,408.63 L230.95,407.80 L231.69,406.94 L232.40,406.04 L233.08,405.10 L233.72,404.13 L234.33,403.14 L234.90,402.11 L235.44,401.06 L235.94,399.98 L236.41,398.89 L236.83,397.78 L237.22,396.65 L237.56,395.51 L237.86,394.35 L238.12,393.19 L238.34,392.02 L238.51,390.85 L238.63,389.67 L238.70,388.49 L238.73,387.31 L238.70,386.14 L238.62,384.97 L238.49,383.81 L238.30,382.66 L238.05,381.52 L237.75,380.40 L237.38,379.29 L236.95,378.21 L236.45,377.14 L235.88,376.11 L231.72,378.89 L232.24,379.59 L232.72,380.33 L233.16,381.12 L233.55,381.93 L233.91,382.79 L234.23,383.68 L234.50,384.60 L234.73,385.55 L234.92,386.52 L235.07,387.52 L235.17,388.54 L235.23,389.58 L235.25,390.63 L235.22,391.69 L235.15,392.76 L235.04,393.84 L234.89,394.91 L234.70,395.99 L234.47,397.07 L234.20,398.14 L233.89,399.20 L233.54,400.26 L233.15,401.29 L232.73,402.32 L232.26,403.32 L231.77,404.30 L231.23,405.26 L230.66,406.19 L230.06,407.10 L229.42,407.97 Z" fill="url(#cvB)"/>
<path d="M232.60,371.00 L238.32,376.66 L229.28,378.34 Z" fill="#2c6e9c"/>
<g transform="matrix(1.12,0,0,1,-24.17,0)"><text x="201.40" y="368.70" style="font-family:'Liberation Sans',Arial,sans-serif;font-size:8.4px;font-weight:bold;font-style:italic">CO<tspan dy="2.10" style="font-size:5.04px">2</tspan><tspan dy="-2.10">+H</tspan><tspan dy="2.10" style="font-size:5.04px">2</tspan><tspan dy="-2.10">O</tspan></text></g>
<ellipse cx="202.10" cy="392.50" rx="2.6" ry="2.4" fill="#1a70e8"/>
<g transform="matrix(0.92,0,0,1,16.39,0)"><text x="204.90" y="397.10" style="font-family:'Liberation Sans',Arial,sans-serif;font-size:14.3px;font-weight:bold;font-style:italic;fill:#1a70e8">O<tspan dy="3.43" style="font-size:8.58px">2</tspan><tspan dx="1.43" dy="-8.87" style="font-size:8.58px;font-style:normal">−</tspan></text></g>
<path d="M216.62,458.83L218.16,463.73M207.01,458.03L201.63,462.36M205.41,450.82L198.88,449.96M212.62,445.22L211.27,440.32M221.43,446.02L226.43,441.69" stroke="#b4b4b4" stroke-width="1.3" fill="none"/>
<path d="M223.83,453.23L216.62,458.83M216.62,458.83L207.01,458.03M207.01,458.03L205.41,450.82M205.41,450.82L212.62,445.22M212.62,445.22L221.43,446.02M221.43,446.02L223.83,453.23" stroke="#8c8c8c" stroke-width="2.3" fill="none"/>
<path d="M223.83,453.23L216.62,458.83M216.62,458.83L207.01,458.03M207.01,458.03L205.41,450.82M205.41,450.82L212.62,445.22M212.62,445.22L221.43,446.02M221.43,446.02L223.83,453.23" stroke="#c4c4c4" stroke-width="0.8" fill="none"/>
<path d="M223.83,453.23L228.64,453.63" stroke="#909090" stroke-width="1.8"/>
<path d="M228.64,453.63L233.44,454.03" stroke="#f03030" stroke-width="1.8"/>
<circle cx="218.16" cy="463.73" r="1.85" fill="url(#gH)"/>
<circle cx="201.63" cy="462.36" r="1.85" fill="url(#gH)"/>
<circle cx="198.88" cy="449.96" r="1.85" fill="url(#gH)"/>
<circle cx="211.27" cy="440.32" r="1.85" fill="url(#gH)"/>
<circle cx="226.43" cy="441.69" r="1.85" fill="url(#gH)"/>
<circle cx="235.85" cy="450.02" r="1.5" fill="url(#gHO)"/>
<circle cx="234.24" cy="458.83" r="1.5" fill="url(#gHO)"/>
<circle cx="212.62" cy="445.22" r="2.75" fill="url(#gC)"/>
<circle cx="221.43" cy="446.02" r="2.75" fill="url(#gC)"/>
<circle cx="205.41" cy="450.82" r="2.75" fill="url(#gC)"/>
<circle cx="223.83" cy="453.23" r="2.75" fill="url(#gC)"/>
<circle cx="207.01" cy="458.03" r="2.75" fill="url(#gC)"/>
<circle cx="216.62" cy="458.83" r="2.75" fill="url(#gC)"/>
<circle cx="233.44" cy="454.03" r="2.5" fill="url(#gO)"/>
<text x="224.60" y="467.20" style="font-family:'Liberation Sans',Arial,sans-serif;font-size:7.7px;font-weight:bold;font-style:italic;fill:#000" text-anchor="start" >Phenol</text>
<text x="221.40" y="490.90" style="font-family:'Liberation Sans',Arial,sans-serif;font-size:14px;font-weight:bold;font-style:italic;fill:#1a70e8">h<tspan dy="-5.60" style="font-size:8.68px">+</tspan></text>
<path d="M241.13,473.35 L241.40,474.19 L241.65,475.02 L241.88,475.86 L242.08,476.68 L242.26,477.51 L242.42,478.33 L242.55,479.14 L242.67,479.94 L242.76,480.74 L242.82,481.52 L242.87,482.29 L242.89,483.05 L242.88,483.80 L242.86,484.53 L242.81,485.24 L242.74,485.94 L242.65,486.62 L242.54,487.28 L242.40,487.92 L242.24,488.53 L242.07,489.12 L241.87,489.69 L241.65,490.23 L241.41,490.75 L241.16,491.23 L240.88,491.69 L240.60,492.12 L240.29,492.52 L239.97,492.89 L239.64,493.22 L242.36,495.58 L242.76,495.01 L243.13,494.42 L243.46,493.80 L243.75,493.17 L244.01,492.52 L244.24,491.86 L244.44,491.18 L244.61,490.48 L244.75,489.77 L244.86,489.05 L244.94,488.32 L245.00,487.58 L245.03,486.82 L245.03,486.06 L245.01,485.28 L244.97,484.50 L244.90,483.71 L244.80,482.91 L244.68,482.10 L244.54,481.29 L244.38,480.48 L244.19,479.66 L243.98,478.84 L243.74,478.01 L243.48,477.18 L243.21,476.36 L242.91,475.53 L242.58,474.70 L242.24,473.88 L241.87,473.05 Z" fill="url(#cvP)"/>
<path d="M237.60,499.00 L237.86,492.08 L244.14,496.72 Z" fill="#f020e8"/>
<g transform="matrix(1.12,0,0,1,-25.68,0)"><text x="214.00" y="510.00" style="font-family:'Liberation Sans',Arial,sans-serif;font-size:8.4px;font-weight:bold;font-style:italic">CO<tspan dy="2.10" style="font-size:5.04px">2</tspan><tspan dy="-2.10">+H</tspan><tspan dy="2.10" style="font-size:5.04px">2</tspan><tspan dy="-2.10">O</tspan></text></g>
<path d="M336.60,465.74L337.97,471.17M326.87,464.03L321.24,468.22M324.59,457.16L317.31,456.41M332.59,450.87L331.08,445.58M342.32,452.01L347.81,447.55" stroke="#b4b4b4" stroke-width="1.3" fill="none"/>
<path d="M345.18,459.45L336.60,465.74M336.60,465.74L326.87,464.03M326.87,464.03L324.59,457.16M324.59,457.16L332.59,450.87M332.59,450.87L342.32,452.01M342.32,452.01L345.18,459.45" stroke="#8c8c8c" stroke-width="2.3" fill="none"/>
<path d="M345.18,459.45L336.60,465.74M336.60,465.74L326.87,464.03M326.87,464.03L324.59,457.16M324.59,457.16L332.59,450.87M332.59,450.87L342.32,452.01M342.32,452.01L345.18,459.45" stroke="#c4c4c4" stroke-width="0.8" fill="none"/>
<path d="M345.18,459.45L349.76,460.02" stroke="#909090" stroke-width="1.8"/>
<path d="M349.76,460.02L354.33,460.59" stroke="#f03030" stroke-width="1.8"/>
<circle cx="337.97" cy="471.17" r="1.85" fill="url(#gH)"/>
<circle cx="321.24" cy="468.22" r="1.85" fill="url(#gH)"/>
<circle cx="317.31" cy="456.41" r="1.85" fill="url(#gH)"/>
<circle cx="331.08" cy="445.58" r="1.85" fill="url(#gH)"/>
<circle cx="347.81" cy="447.55" r="1.85" fill="url(#gH)"/>
<circle cx="355.48" cy="457.16" r="1.5" fill="url(#gHO)"/>
<circle cx="357.19" cy="461.74" r="1.5" fill="url(#gHO)"/>
<circle cx="332.59" cy="450.87" r="2.75" fill="url(#gC)"/>
<circle cx="342.32" cy="452.01" r="2.75" fill="url(#gC)"/>
<circle cx="324.59" cy="457.16" r="2.75" fill="url(#gC)"/>
<circle cx="345.18" cy="459.45" r="2.75" fill="url(#gC)"/>
<circle cx="326.87" cy="464.03" r="2.75" fill="url(#gC)"/>
<circle cx="336.60" cy="465.74" r="2.75" fill="url(#gC)"/>
<circle cx="354.33" cy="460.59" r="2.5" fill="url(#gO)"/>
<path d="M325.59,471.89 L324.98,472.47 L324.40,473.07 L323.86,473.69 L323.35,474.33 L322.88,475.00 L322.44,475.68 L322.04,476.38 L321.68,477.10 L321.36,477.83 L321.08,478.57 L320.84,479.33 L320.64,480.09 L320.48,480.87 L320.37,481.65 L320.30,482.44 L320.28,483.24 L320.30,484.04 L320.38,484.84 L320.50,485.64 L320.68,486.44 L320.91,487.24 L321.19,488.03 L321.52,488.81 L321.91,489.57 L322.35,490.33 L322.85,491.07 L323.40,491.79 L324.01,492.49 L324.68,493.17 L325.40,493.83 L327.60,490.97 L326.97,490.53 L326.39,490.06 L325.84,489.57 L325.34,489.06 L324.88,488.53 L324.46,487.99 L324.07,487.43 L323.73,486.85 L323.42,486.26 L323.16,485.65 L322.93,485.03 L322.74,484.40 L322.59,483.75 L322.47,483.10 L322.40,482.43 L322.36,481.76 L322.37,481.07 L322.41,480.39 L322.50,479.69 L322.62,479.00 L322.78,478.31 L322.98,477.61 L323.22,476.92 L323.51,476.24 L323.83,475.56 L324.19,474.88 L324.58,474.22 L325.02,473.57 L325.50,472.93 L326.01,472.31 Z" fill="url(#cvF)"/>
<path d="M331.00,496.30 L323.95,495.35 L329.05,489.45 Z" fill="#f018d8"/>
<ellipse cx="327.6" cy="483.0" rx="2.5" ry="2.2" fill="#10b050"/>
<text x="330.2" y="486.4" style="font-family:'Liberation Sans',Arial,sans-serif;font-size:12.8px;font-weight:bold;font-style:italic;fill:#10b050">OH</text>
<g transform="matrix(1.12,0,0,1,-38.66,0)"><text x="322.20" y="507.60" style="font-family:'Liberation Sans',Arial,sans-serif;font-size:8.4px;font-weight:bold;font-style:italic">CO<tspan dy="2.10" style="font-size:5.04px">2</tspan><tspan dy="-2.10">+H</tspan><tspan dy="2.10" style="font-size:5.04px">2</tspan><tspan dy="-2.10">O</tspan></text></g>
<text x="362.60" y="438.90" style="font-family:'Liberation Sans',Arial,sans-serif;font-size:10.2px;font-weight:bold;font-style:italic;fill:#8a3ec0" text-anchor="start" >Fe(III)</text>
<path d="M375,443.5 V462" stroke="#777" stroke-width="0.9" stroke-dasharray="1.4,1.4"/><path d="M375,465 l-1.6,-3 h3.2z" fill="#777"/>
<text x="377.8" y="457.8" style="font-family:'Liberation Sans',Arial,sans-serif;font-size:9.5px;font-weight:bold;fill:#d09020">e<tspan dy="-3.4" style="font-size:6.5px">−</tspan></text>
<text x="361.60" y="476.30" style="font-family:'Liberation Sans',Arial,sans-serif;font-size:10.4px;font-weight:bold;font-style:italic;fill:#2a7ae8" text-anchor="start" >Fe(II)</text>
<path d="M389,480.2 H357" stroke="#222" stroke-width="0.8"/><path d="M353.8,480.2 l3.8,-1.6 v3.2z" fill="#222"/>
<g transform="matrix(1.04,0,0,1,-15.61,0)"><text x="390.3" y="486.6" style="font-family:'Liberation Sans',Arial,sans-serif;font-size:12.8px;font-weight:bold;font-style:italic;fill:#f01010">H<tspan dy="2.6" style="font-size:9.4px">2</tspan><tspan dy="-2.6">O</tspan><tspan dy="2.6" style="font-size:9.4px">2</tspan></text></g>
<g transform="matrix(1.085,0,0,1,-22.18,0)"><text x="260.9" y="526.2" style="font-family:'Liberation Sans',Arial,sans-serif;font-size:12.8px;font-weight:bold;font-style:italic">Fe-BiOCl-V<tspan dy="2.8" style="font-size:9.5px">o</tspan></text></g>
<g transform="matrix(1.11,0,0,1,-24.79,0)"><text x="225.4" y="542.6" style="font-family:'Liberation Sans',Arial,sans-serif;font-size:12.6px;font-weight:bold;font-style:italic">Photocatalysis-Fenton</text></g>
<line x1="408.8" y1="359.5" x2="408.8" y2="550" stroke="#f8f8f8" stroke-width="1"/>
</svg></div></body></html>
